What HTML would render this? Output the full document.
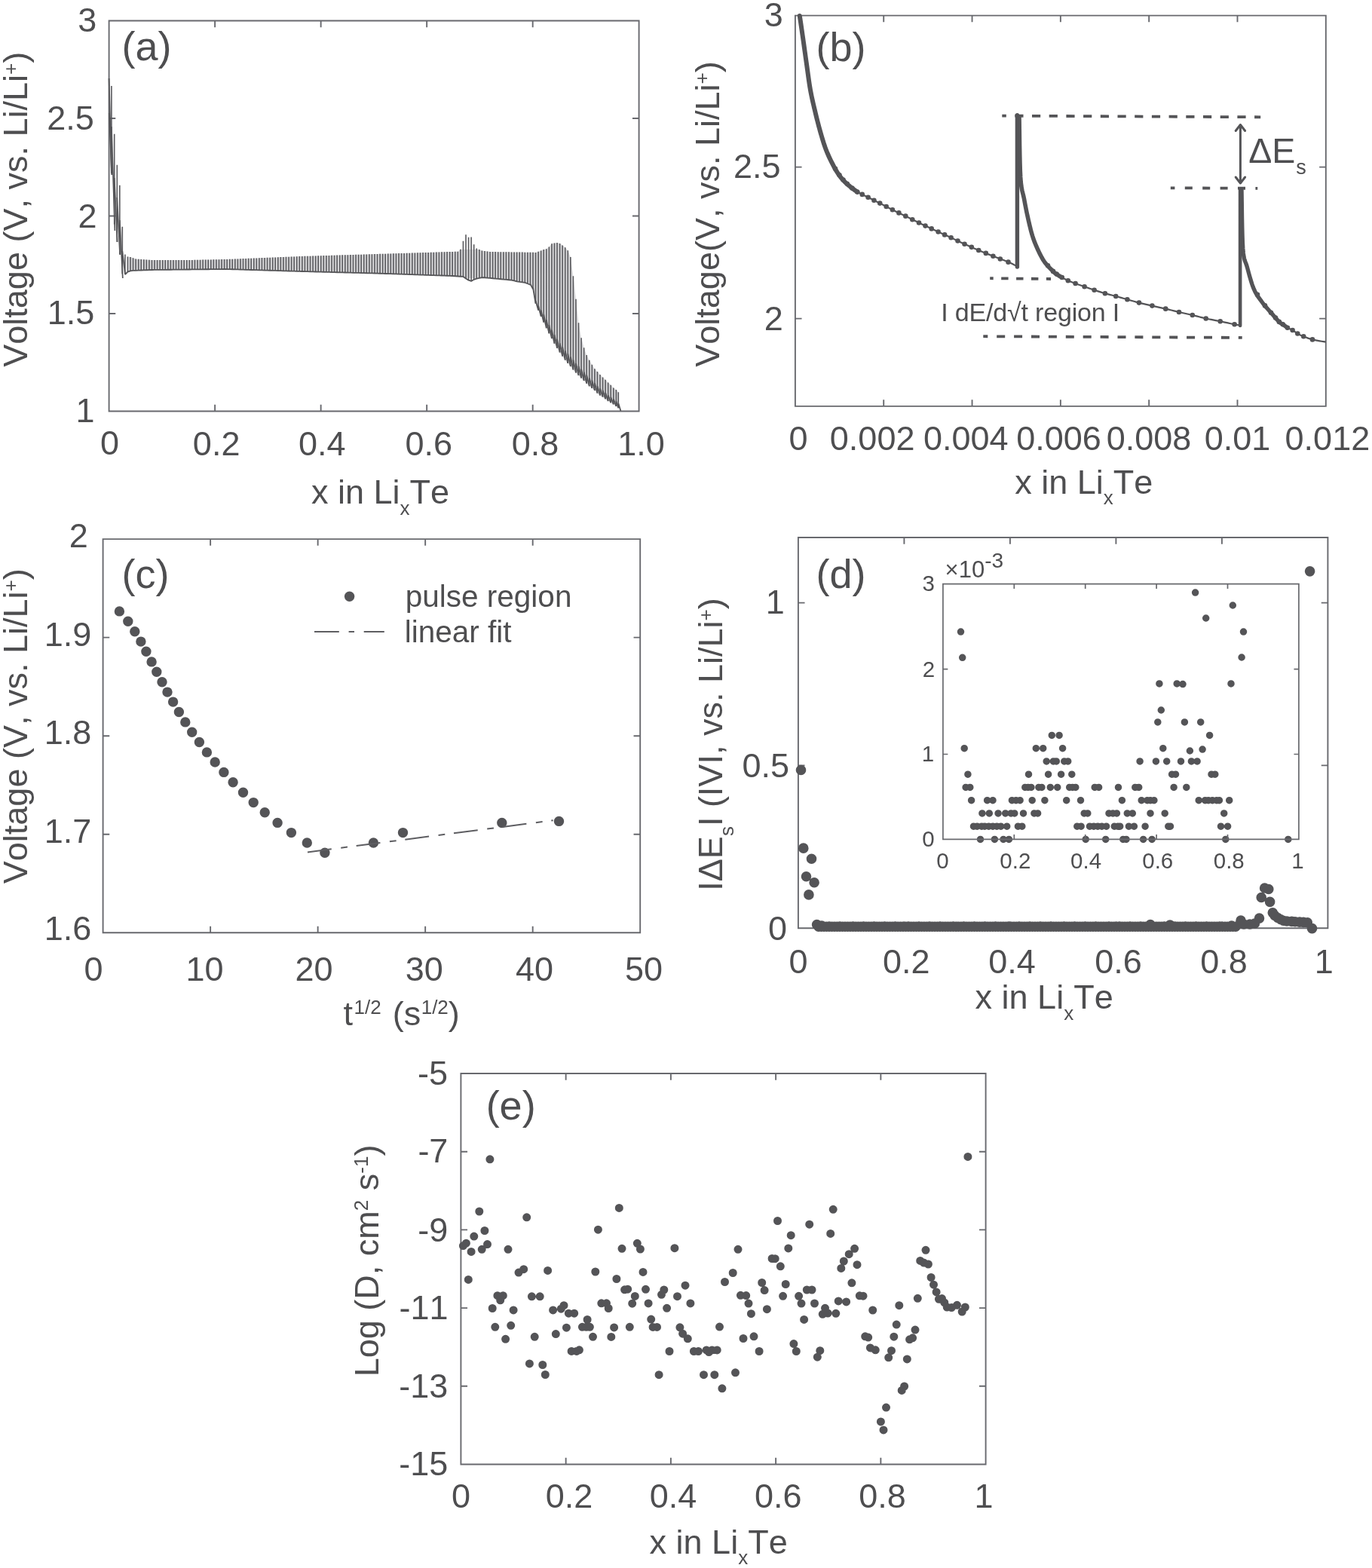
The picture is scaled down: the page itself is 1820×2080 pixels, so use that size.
<!DOCTYPE html>
<html><head><meta charset="utf-8"><title>GITT analysis of LixTe</title>
<style>
html,body{margin:0;padding:0;background:#fff;}
svg{display:block;}
text{font-family:"Liberation Sans", Arial, Helvetica, sans-serif;font-kerning:none;font-feature-settings:"kern" 0;}
</style></head><body>
<svg width="1820" height="2080" viewBox="0 0 1820 2080">
<rect width="1820" height="2080" fill="#fff"/>
<path d="M144.6 27.5H847.6V545.5H144.6ZM285.12 545.5v-7.7M285.12 27.5v7.7M425.64 545.5v-7.7M425.64 27.5v7.7M566.16 545.5v-7.7M566.16 27.5v7.7M706.68 545.5v-7.7M706.68 27.5v7.7M144.6 416h7.7M847.6 416h-7.7M144.6 286.5h7.7M847.6 286.5h-7.7M144.6 157h7.7M847.6 157h-7.7" fill="none" stroke="#68696e" stroke-width="1.9" stroke-linecap="square"/>
<path d="M169.4 340.5L173 341L176.56 342.27L180.12 343.51L183.68 343.78L187.24 344.04L190.8 344.31L194.36 344.58L197.92 344.84L201.48 345L205.04 345L208.6 345L212.16 345L215.72 345L219.28 345L222.84 345L226.4 345L229.96 345L233.52 345L237.08 345L240.64 345L244.2 345L247.76 345L251.32 344.97L254.88 344.9L258.44 344.83L262 344.76L265.56 344.69L269.12 344.62L272.68 344.55L276.24 344.48L279.8 344.4L283.36 344.33L286.92 344.26L290.48 344.19L294.04 344.12L297.6 344.05L301.16 343.95L304.72 343.81L308.28 343.67L311.84 343.53L315.4 343.38L318.96 343.24L322.52 343.1L326.08 342.96L329.64 342.81L333.2 342.67L336.76 342.53L340.32 342.39L343.88 342.24L347.44 342.1L351 341.96L354.56 341.82L358.12 341.68L361.68 341.53L365.24 341.39L368.8 341.25L372.36 341.11L375.92 340.96L379.48 340.82L383.04 340.68L386.6 340.54L390.16 340.39L393.72 340.25L397.28 340.11L400.84 339.97L404.4 339.87L407.96 339.76L411.52 339.65L415.08 339.55L418.64 339.44L422.2 339.33L425.76 339.23L429.32 339.12L432.88 339.01L436.44 338.91L440 338.8L443.56 338.69L447.12 338.59L450.68 338.48L454.24 338.37L457.8 338.27L461.36 338.16L464.92 338.05L468.48 337.95L472.04 337.84L475.6 337.73L479.16 337.63L482.72 337.52L486.28 337.41L489.84 337.3L493.4 337.2L496.96 337.09L500.52 336.98L504.08 336.87L507.64 336.76L511.2 336.65L514.76 336.54L518.32 336.43L521.88 336.32L525.44 336.21L529 336.1L532.56 335.99L536.12 335.88L539.68 335.77L543.24 335.66L546.8 335.55L550.36 335.44L553.92 335.33L557.48 335.22L561.04 335.11L564.6 335L568.16 334.89L571.72 334.78L575.28 334.67L578.84 334.56L582.4 334.45L585.96 334.34L589.52 334.23L593.08 334.12L596.64 334.01L600.2 333.9L603.76 333.79L607.32 333.68L610.88 330.85L614.44 331L618 331L621.56 331L625.12 331L628.68 331L632.24 331L635.8 331L639.36 332.55L642.92 333.03L646.48 333.52L650.04 334L653.6 334.05L657.16 334.1L660.72 334.15L664.28 334.2L667.84 334.25L671.4 334.3L674.96 334.35L678.52 334.4L682.08 334.45L685.64 334.5L689.2 334.55L692.76 334.6L696.32 334.65L699.88 334.7L703.44 334.77L707 334.83L710.56 334.88L714.12 333.66L717.68 332.53L721.24 331.03L724.8 330.22L728.36 327.52L731.92 323.37L735.48 322.49L739.04 321.92L742.6 323.07L746.16 325.52L749.72 328.13L753.28 332.26L756.84 341.04L760.4 366.21L763.96 396.66L767.52 428.16L771.08 448.25L774.64 461.26L778.2 470.97L781.76 477.76L785.32 483.65L788.88 489.15L792.44 493.11L796 496.95L799.56 500.55L803.12 503.71L806.68 507.58L810.24 510.85L813.8 514.52L817.36 517.1L820.3 520.2L820.3 541.33L817.36 538.9L813.8 536.36L810.24 534.23L806.68 532.12L803.12 529.24L799.56 526.58L796 524.47L792.44 521.61L788.88 518L785.32 514.98L781.76 512.2L778.2 508.65L774.64 505.04L771.08 501.48L767.52 497.94L763.96 494.44L760.4 490.43L756.84 486.08L753.28 481.83L749.72 477.59L746.16 472.56L742.6 467.38L739.04 461.76L735.48 455.69L731.92 449.08L728.36 442.23L724.8 435.28L721.24 427.53L717.68 419.64L714.12 411.55L710.56 402.58L707 383.26L703.44 377.73L699.88 376.28L696.32 374.88L692.76 374.42L689.2 373.97L685.64 373.4L682.08 372.33L678.52 371.56L674.96 371.23L671.4 370.9L667.84 370.58L664.28 370.25L660.72 369.92L657.16 369.59L653.6 369.26L650.04 368.93L646.48 368.6L642.92 368.27L639.36 368.13L635.8 368.84L632.24 369L628.68 369L625.12 369L621.56 369L618 369L614.44 366.96L610.88 366.73L607.32 366.49L603.76 366.25L600.2 366.01L596.64 365.89L593.08 365.76L589.52 365.64L585.96 365.52L582.4 365.4L578.84 365.28L575.28 365.16L571.72 365.04L568.16 364.92L564.6 364.8L561.04 364.68L557.48 364.55L553.92 364.43L550.36 364.31L546.8 364.19L543.24 364.07L539.68 363.95L536.12 363.83L532.56 363.71L529 363.59L525.44 363.46L521.88 363.34L518.32 363.22L514.76 363.1L511.2 362.98L507.64 362.86L504.08 362.74L500.52 362.62L496.96 362.52L493.4 362.43L489.84 362.34L486.28 362.24L482.72 362.15L479.16 362.06L475.6 361.97L472.04 361.87L468.48 361.78L464.92 361.69L461.36 361.6L457.8 361.5L454.24 361.41L450.68 361.32L447.12 361.23L443.56 361.13L440 361.04L436.44 360.95L432.88 360.85L429.32 360.76L425.76 360.67L422.2 360.58L418.64 360.48L415.08 360.39L411.52 360.3L407.96 360.21L404.4 360.11L400.84 360.02L397.28 359.92L393.72 359.81L390.16 359.7L386.6 359.6L383.04 359.49L379.48 359.38L375.92 359.28L372.36 359.17L368.8 359.06L365.24 358.96L361.68 358.85L358.12 358.74L354.56 358.64L351 358.53L347.44 358.42L343.88 358.32L340.32 358.21L336.76 358.1L333.2 358L329.64 357.89L326.08 357.78L322.52 357.68L318.96 357.57L315.4 357.46L311.84 357.36L308.28 357.25L304.72 357.14L301.16 357.03L297.6 357.02L294.04 357.06L290.48 357.1L286.92 357.13L283.36 357.17L279.8 357.2L276.24 357.24L272.68 357.27L269.12 357.31L265.56 357.34L262 357.38L258.44 357.42L254.88 357.45L251.32 357.49L247.76 357.52L244.2 357.56L240.64 357.59L237.08 357.63L233.52 357.66L229.96 357.7L226.4 357.74L222.84 357.77L219.28 357.81L215.72 357.84L212.16 357.88L208.6 357.91L205.04 357.95L201.48 357.99L197.92 358.08L194.36 358.23L190.8 358.37L187.24 358.51L183.68 358.65L180.12 358.8L176.56 358.94L173 359.4L169.4 360.6Z" fill="#dadadc"/>
<path d="M147.9 230V114M151.7 297.6V177.7M155.3 321.06V218.8M158.8 337.09V245.7M162.3 363.25V300.8M165.9 364.15V337.6M169.4 360.6V340.5M173 359.4V341M176.56 358.94V342.27M180.12 358.8V343.51M183.68 358.65V343.78M187.24 358.51V344.04M190.8 358.37V344.31M194.36 358.23V344.58M197.92 358.08V344.84M201.48 357.99V345M205.04 357.95V345M208.6 357.91V345M212.16 357.88V345M215.72 357.84V345M219.28 357.81V345M222.84 357.77V345M226.4 357.74V345M229.96 357.7V345M233.52 357.66V345M237.08 357.63V345M240.64 357.59V345M244.2 357.56V345M247.76 357.52V345M251.32 357.49V344.97M254.88 357.45V344.9M258.44 357.42V344.83M262 357.38V344.76M265.56 357.34V344.69M269.12 357.31V344.62M272.68 357.27V344.55M276.24 357.24V344.48M279.8 357.2V344.4M283.36 357.17V344.33M286.92 357.13V344.26M290.48 357.1V344.19M294.04 357.06V344.12M297.6 357.02V344.05M301.16 357.03V343.95M304.72 357.14V343.81M308.28 357.25V343.67M311.84 357.36V343.53M315.4 357.46V343.38M318.96 357.57V343.24M322.52 357.68V343.1M326.08 357.78V342.96M329.64 357.89V342.81M333.2 358V342.67M336.76 358.1V342.53M340.32 358.21V342.39M343.88 358.32V342.24M347.44 358.42V342.1M351 358.53V341.96M354.56 358.64V341.82M358.12 358.74V341.68M361.68 358.85V341.53M365.24 358.96V341.39M368.8 359.06V341.25M372.36 359.17V341.11M375.92 359.28V340.96M379.48 359.38V340.82M383.04 359.49V340.68M386.6 359.6V340.54M390.16 359.7V340.39M393.72 359.81V340.25M397.28 359.92V340.11M400.84 360.02V339.97M404.4 360.11V339.87M407.96 360.21V339.76M411.52 360.3V339.65M415.08 360.39V339.55M418.64 360.48V339.44M422.2 360.58V339.33M425.76 360.67V339.23M429.32 360.76V339.12M432.88 360.85V339.01M436.44 360.95V338.91M440 361.04V338.8M443.56 361.13V338.69M447.12 361.23V338.59M450.68 361.32V338.48M454.24 361.41V338.37M457.8 361.5V338.27M461.36 361.6V338.16M464.92 361.69V338.05M468.48 361.78V337.95M472.04 361.87V337.84M475.6 361.97V337.73M479.16 362.06V337.63M482.72 362.15V337.52M486.28 362.24V337.41M489.84 362.34V337.3M493.4 362.43V337.2M496.96 362.52V337.09M500.52 362.62V336.98M504.08 362.74V336.87M507.64 362.86V336.76M511.2 362.98V336.65M514.76 363.1V336.54M518.32 363.22V336.43M521.88 363.34V336.32M525.44 363.46V336.21M529 363.59V336.1M532.56 363.71V335.99M536.12 363.83V335.88M539.68 363.95V335.77M543.24 364.07V335.66M546.8 364.19V335.55M550.36 364.31V335.44M553.92 364.43V335.33M557.48 364.55V335.22M561.04 364.68V335.11M564.6 364.8V335M568.16 364.92V334.89M571.72 365.04V334.78M575.28 365.16V334.67M578.84 365.28V334.56M582.4 365.4V334.45M585.96 365.52V334.34M589.52 365.64V334.23M593.08 365.76V334.12M596.64 365.89V334.01M600.2 366.01V333.9M603.76 366.25V333.79M607.32 366.49V333.68M610.88 366.73V330.85M614.44 366.96V319.75M618 369.4V311.14M621.56 371.62V314.81M625.12 372.93V314.55M628.68 370.79V324.32M632.24 369.55V329.41M635.8 368.84V330.93M639.36 368.13V332.55M642.92 368.27V333.03M646.48 368.6V333.52M650.04 368.93V334M653.6 369.26V334.05M657.16 369.59V334.1M660.72 369.92V334.15M664.28 370.25V334.2M667.84 370.58V334.25M671.4 370.9V334.3M674.96 371.23V334.35M678.52 371.56V334.4M682.08 372.33V334.45M685.64 373.4V334.5M689.2 373.97V334.55M692.76 374.42V334.6M696.32 374.88V334.65M699.88 376.28V334.7M703.44 377.73V334.77M707 383.26V334.83M710.56 402.58V334.88M714.12 411.55V333.66M717.68 419.64V332.53M721.24 427.53V331.03M724.8 435.28V330.22M728.36 442.23V327.52M731.92 449.08V323.37M735.48 455.69V322.49M739.04 461.76V321.92M742.6 467.38V323.07M746.16 472.56V325.52M749.72 477.59V328.13M753.28 481.83V332.26M756.84 486.08V341.04M760.4 490.43V366.21M763.96 494.44V396.66M767.52 497.94V428.16M771.08 501.48V448.25M774.64 505.04V461.26M778.2 508.65V470.97M781.76 512.2V477.76M785.32 514.98V483.65M788.88 518V489.15M792.44 521.61V493.11M796 524.47V496.95M799.56 526.58V500.55M803.12 529.24V503.71M806.68 532.12V507.58M810.24 534.23V510.85M813.8 536.36V514.52M817.36 538.9V517.1M820.3 541.33V520.2" fill="none" stroke="#59595d" stroke-width="1.6"/>
<path d="M144.6 104L147.9 230M166 364L169.4 360.6L173 359.4L176.56 358.94L180.12 358.8L183.68 358.65L187.24 358.51L190.8 358.37L194.36 358.23L197.92 358.08L201.48 357.99L205.04 357.95L208.6 357.91L212.16 357.88L215.72 357.84L219.28 357.81L222.84 357.77L226.4 357.74L229.96 357.7L233.52 357.66L237.08 357.63L240.64 357.59L244.2 357.56L247.76 357.52L251.32 357.49L254.88 357.45L258.44 357.42L262 357.38L265.56 357.34L269.12 357.31L272.68 357.27L276.24 357.24L279.8 357.2L283.36 357.17L286.92 357.13L290.48 357.1L294.04 357.06L297.6 357.02L301.16 357.03L304.72 357.14L308.28 357.25L311.84 357.36L315.4 357.46L318.96 357.57L322.52 357.68L326.08 357.78L329.64 357.89L333.2 358L336.76 358.1L340.32 358.21L343.88 358.32L347.44 358.42L351 358.53L354.56 358.64L358.12 358.74L361.68 358.85L365.24 358.96L368.8 359.06L372.36 359.17L375.92 359.28L379.48 359.38L383.04 359.49L386.6 359.6L390.16 359.7L393.72 359.81L397.28 359.92L400.84 360.02L404.4 360.11L407.96 360.21L411.52 360.3L415.08 360.39L418.64 360.48L422.2 360.58L425.76 360.67L429.32 360.76L432.88 360.85L436.44 360.95L440 361.04L443.56 361.13L447.12 361.23L450.68 361.32L454.24 361.41L457.8 361.5L461.36 361.6L464.92 361.69L468.48 361.78L472.04 361.87L475.6 361.97L479.16 362.06L482.72 362.15L486.28 362.24L489.84 362.34L493.4 362.43L496.96 362.52L500.52 362.62L504.08 362.74L507.64 362.86L511.2 362.98L514.76 363.1L518.32 363.22L521.88 363.34L525.44 363.46L529 363.59L532.56 363.71L536.12 363.83L539.68 363.95L543.24 364.07L546.8 364.19L550.36 364.31L553.92 364.43L557.48 364.55L561.04 364.68L564.6 364.8L568.16 364.92L571.72 365.04L575.28 365.16L578.84 365.28L582.4 365.4L585.96 365.52L589.52 365.64L593.08 365.76L596.64 365.89L600.2 366.01L603.76 366.25L607.32 366.49L610.88 366.73L614.44 366.96L618 369.4L621.56 371.62L625.12 372.93L628.68 370.79L632.24 369.55L635.8 368.84L639.36 368.13L642.92 368.27L646.48 368.6L650.04 368.93L653.6 369.26L657.16 369.59L660.72 369.92L664.28 370.25L667.84 370.58L671.4 370.9L674.96 371.23L678.52 371.56L682.08 372.33L685.64 373.4L689.2 373.97L692.76 374.42L696.32 374.88L699.88 376.28L703.44 377.73M703.44 376.87L707 383.26M707 381.51L710.56 402.58M710.56 398.87L714.12 411.55M714.12 405.47L717.68 419.64M717.68 411.34L721.24 427.53M721.24 417L724.8 435.28M724.8 424.13L728.36 442.23M728.36 430.9L731.92 449.08M731.92 437.56L735.48 455.69M735.48 443.98L739.04 461.76M739.04 449.86L742.6 467.38M742.6 455.3L746.16 472.56M746.16 460.29L749.72 477.59M749.72 465.13L753.28 481.83M753.28 469.19L756.84 486.08M756.84 473.25L760.4 490.43M760.4 477.47L763.96 494.44M763.96 481.83L767.52 497.94M767.52 485.69L771.08 501.48M771.08 489.59L774.64 505.04M774.64 493.5L778.2 508.65M778.2 497.47L781.76 512.2M781.76 501.38L785.32 514.98M785.32 504.52L788.88 518M788.88 507.88L792.44 521.61M792.44 511.92L796 524.47M796 515.22L799.56 526.58M799.56 517.78L803.12 529.24M803.12 520.88L806.68 532.12M806.68 524.21L810.24 534.23M810.24 526.76L813.8 536.36M813.8 529.33L817.36 538.9M817.36 532.32L820.3 541.33M820.3 535.12L823.4 545" fill="none" stroke="#545457" stroke-width="1.8" stroke-linejoin="round"/>
<path d="M144.8 150L148.2 232M147.9 168L152.4 306M151.7 236L155.6 321M155.3 262L159.1 338M158.8 292L162.8 369M162.3 333L166 364" fill="none" stroke="#545457" stroke-width="1.7"/>
<text x="103.32" y="41.64" font-size="45" fill="#4e4e50">3</text>
<text x="62.29" y="171.69" font-size="45" fill="#4e4e50">2.5</text>
<text x="103.49" y="301.56" font-size="45" fill="#4e4e50">2</text>
<text x="62.85" y="430.41" font-size="45" fill="#4e4e50">1.5</text>
<text x="100.62" y="559.78" font-size="45" fill="#4e4e50">1</text>
<text x="132.99" y="603.29" font-size="45" fill="#4e4e50">0</text>
<text x="255.87" y="603.59" font-size="45" fill="#4e4e50">0.2</text>
<text x="396.05" y="603.59" font-size="45" fill="#4e4e50">0.4</text>
<text x="537.38" y="603.59" font-size="45" fill="#4e4e50">0.6</text>
<text x="678.77" y="603.59" font-size="45" fill="#4e4e50">0.8</text>
<text x="819.24" y="603.59" font-size="45" fill="#4e4e50">1.0</text>
<text x="161.55" y="80.47" font-size="54" fill="#4e4e50">(a)</text>
<text x="412.99" y="668" font-size="45" fill="#4e4e50">x in Li<tspan font-size="26" dy="14.5">x</tspan><tspan dy="-14.5">Te</tspan></text>
<text transform="translate(36 486.7) rotate(-90)" font-size="45" fill="#4e4e50">Voltage (V, vs. Li/Li<tspan font-size="26" dy="-13.5">+</tspan><tspan dy="13.5">)</tspan></text>
<path d="M1054.9 20.6H1758.8V538.9H1054.9ZM1172.22 538.9v-7.7M1172.22 20.6v7.7M1289.54 538.9v-7.7M1289.54 20.6v7.7M1406.86 538.9v-7.7M1406.86 20.6v7.7M1524.18 538.9v-7.7M1524.18 20.6v7.7M1641.5 538.9v-7.7M1641.5 20.6v7.7M1054.9 422.6h7.7M1758.8 422.6h-7.7M1054.9 221.6h7.7M1758.8 221.6h-7.7" fill="none" stroke="#68696e" stroke-width="1.9" stroke-linecap="square"/>
<g stroke="#545457" stroke-width="3.8" fill="none"><path d="M1329.3 153.6L1672.2 155.3" stroke-dasharray="11.2 11.5" stroke-dashoffset="5.7"/><path d="M1552.8 249.3L1668.2 249.8" stroke-dasharray="10 13.4" stroke-dashoffset="4.4"/><path d="M1313.2 369.2L1394 370" stroke-dasharray="9.4 10.5" stroke-dashoffset="4.9"/><path d="M1304.3 446.2L1647.7 447.9" stroke-dasharray="11 11.9" stroke-dashoffset="5"/></g>
<path d="M1060.8 20.9L1061.14 23.19L1061.58 26.21L1062.11 29.8L1062.7 33.81L1063.33 38.09L1063.97 42.48L1064.6 46.84L1065.2 51L1065.78 55.08L1066.37 59.26L1066.96 63.52L1067.56 67.84L1068.17 72.19L1068.78 76.55L1069.39 80.9L1070 85.2L1070.61 89.52L1071.21 93.91L1071.82 98.32L1072.42 102.73L1073.04 107.07L1073.67 111.33L1074.33 115.45L1075 119.4L1075.7 123.15L1076.41 126.73L1077.13 130.18L1077.88 133.53L1078.63 136.83L1079.41 140.12L1080.2 143.43L1081 146.8L1081.82 150.24L1082.66 153.7L1083.52 157.16L1084.39 160.63L1085.27 164.06L1086.17 167.47L1087.08 170.82L1088 174.1L1088.92 177.32L1089.84 180.5L1090.76 183.64L1091.7 186.74L1092.66 189.79L1093.66 192.8L1094.7 195.77L1095.8 198.7L1096.96 201.61L1098.2 204.53L1099.48 207.41L1100.79 210.25L1102.11 213.01L1103.44 215.67L1104.74 218.21L1106 220.6L1107.22 222.83L1108.41 224.93L1109.58 226.91L1110.75 228.78L1111.92 230.57L1113.12 232.29L1114.34 233.96L1115.6 235.6L1116.91 237.19L1118.25 238.7L1119.63 240.14L1121.02 241.52L1122.42 242.86L1123.82 244.14L1125.22 245.39L1126.6 246.6L1127.95 247.77L1129.27 248.88L1130.57 249.94L1131.88 250.96L1133.21 251.95L1134.58 252.91L1136 253.86L1137.5 254.8L1139.06 255.71L1140.66 256.57L1142.31 257.39L1144.01 258.2L1145.74 259.01L1147.52 259.83L1149.34 260.69L1151.2 261.6L1153.12 262.55L1155.09 263.54L1157.12 264.54L1159.19 265.57L1161.28 266.61L1163.39 267.67L1165.5 268.73L1167.6 269.8L1169.7 270.88L1171.83 271.99L1173.96 273.12L1176.11 274.25L1178.26 275.38L1180.41 276.51L1182.56 277.62L1184.7 278.7L1186.9 279.79L1189.18 280.89L1191.49 282L1193.79 283.09L1196.02 284.14L1198.13 285.14L1200.07 286.07L1201.8 286.9L1203.21 287.6L1204.33 288.15L1205.24 288.62L1206.04 289.04L1206.85 289.46L1207.76 289.93L1208.88 290.49L1210.3 291.2L1212.03 292.06L1213.99 293.02L1216.12 294.07L1218.36 295.17L1220.67 296.31L1223 297.44L1225.3 298.55L1227.5 299.6L1229.64 300.61L1231.78 301.61L1233.92 302.6L1236.06 303.59L1238.2 304.57L1240.33 305.54L1242.47 306.52L1244.6 307.5L1246.72 308.48L1248.84 309.44L1250.94 310.4L1253.05 311.37L1255.16 312.33L1257.29 313.31L1259.43 314.29L1261.6 315.3L1263.79 316.33L1265.99 317.37L1268.21 318.43L1270.44 319.5L1272.69 320.57L1274.95 321.64L1277.22 322.7L1279.5 323.75L1281.8 324.79L1284.11 325.84L1286.43 326.88L1288.77 327.92L1291.12 328.95L1293.47 329.97L1295.83 330.99L1298.2 332L1300.57 333L1302.94 333.98L1305.32 334.96L1307.71 335.93L1310.11 336.89L1312.53 337.86L1314.95 338.83L1317.4 339.8L1319.93 340.79L1322.56 341.8L1325.25 342.82L1327.93 343.84L1330.55 344.84L1333.05 345.8L1335.39 346.73L1337.5 347.6L1339.44 348.44L1341.27 349.29L1342.98 350.11L1344.56 350.89L1345.97 351.61L1347.21 352.25L1348.26 352.78L1349.1 353.2L1349.5 152.6L1352 155L1352.11 161.52L1352.23 170.56L1352.37 181.37L1352.54 193.17L1352.75 205.2L1353.01 216.69L1353.32 226.88L1353.7 235L1354.16 241.12L1354.7 246L1355.3 249.92L1355.95 253.12L1356.62 255.9L1357.3 258.51L1357.97 261.22L1358.6 264.3L1359.2 267.59L1359.8 270.75L1360.38 273.81L1360.98 276.81L1361.57 279.77L1362.19 282.72L1362.83 285.69L1363.5 288.7L1364.2 291.78L1364.91 294.92L1365.65 298.07L1366.4 301.22L1367.17 304.32L1367.96 307.34L1368.77 310.24L1369.6 313L1370.45 315.61L1371.31 318.1L1372.19 320.48L1373.09 322.78L1374.01 325.02L1374.96 327.2L1375.92 329.36L1376.9 331.5L1377.9 333.63L1378.9 335.72L1379.92 337.78L1380.97 339.79L1382.04 341.76L1383.15 343.67L1384.3 345.52L1385.5 347.3L1386.79 349.05L1388.2 350.77L1389.66 352.46L1391.16 354.08L1392.63 355.62L1394.04 357.05L1395.34 358.35L1396.5 359.5L1397.5 360.47L1398.37 361.27L1399.15 361.93L1399.86 362.49L1400.53 362.98L1401.19 363.44L1401.87 363.9L1402.6 364.4L1403.35 364.91L1404.07 365.37L1404.78 365.81L1405.5 366.23L1406.24 366.65L1407.01 367.07L1407.82 367.52L1408.7 368L1409.64 368.52L1410.63 369.06L1411.65 369.62L1412.72 370.19L1413.81 370.76L1414.93 371.32L1416.06 371.87L1417.2 372.4L1418.35 372.9L1419.51 373.38L1420.68 373.85L1421.88 374.31L1423.11 374.77L1424.36 375.24L1425.66 375.71L1427 376.2L1428.39 376.7L1429.81 377.21L1431.28 377.73L1432.78 378.25L1434.3 378.78L1435.85 379.31L1437.42 379.85L1439 380.4L1440.61 380.96L1442.25 381.53L1443.92 382.11L1445.61 382.7L1447.31 383.29L1449.02 383.87L1450.72 384.44L1452.4 385L1454.07 385.55L1455.72 386.09L1457.38 386.62L1459.03 387.15L1460.69 387.67L1462.37 388.19L1464.07 388.7L1465.8 389.2L1467.55 389.69L1469.32 390.16L1471.11 390.63L1472.91 391.09L1474.73 391.55L1476.57 392.02L1478.43 392.5L1480.3 393L1482.2 393.52L1484.13 394.06L1486.09 394.61L1488.06 395.18L1490.04 395.74L1492.01 396.3L1493.97 396.86L1495.9 397.4L1497.8 397.94L1499.66 398.47L1501.5 399L1503.34 399.52L1505.2 400.05L1507.08 400.57L1509.01 401.09L1511 401.6L1513.05 402.11L1515.16 402.61L1517.31 403.11L1519.49 403.61L1521.69 404.11L1523.9 404.6L1526.1 405.1L1528.3 405.6L1530.49 406.1L1532.69 406.59L1534.9 407.08L1537.11 407.58L1539.32 408.07L1541.54 408.57L1543.77 409.08L1546 409.6L1548.24 410.13L1550.48 410.68L1552.74 411.24L1554.99 411.8L1557.25 412.36L1559.51 412.92L1561.76 413.47L1564 414L1566.23 414.52L1568.46 415.02L1570.69 415.51L1572.91 415.99L1575.13 416.48L1577.35 416.97L1579.57 417.48L1581.8 418L1584.03 418.54L1586.24 419.11L1588.46 419.68L1590.67 420.27L1592.9 420.85L1595.15 421.42L1597.41 421.97L1599.7 422.5L1602.02 423L1604.38 423.48L1606.75 423.95L1609.14 424.4L1611.53 424.85L1613.93 425.31L1616.32 425.77L1618.7 426.25L1621.15 426.76L1623.7 427.31L1626.3 427.88L1628.88 428.44L1631.36 428.98L1633.69 429.49L1635.79 429.93L1637.6 430.3L1639.13 430.59L1640.43 430.81L1641.54 430.98L1642.48 431.1L1643.27 431.2L1643.94 431.27L1644.51 431.34L1645 431.4L1645.2 250.6L1647 252L1647.11 258.38L1647.23 267.27L1647.38 277.89L1647.55 289.47L1647.77 301.25L1648.04 312.44L1648.38 322.28L1648.8 330L1649.3 335.58L1649.86 339.76L1650.48 342.87L1651.16 345.26L1651.89 347.27L1652.68 349.23L1653.52 351.5L1654.4 354.4L1655.34 357.88L1656.34 361.59L1657.39 365.43L1658.5 369.31L1659.65 373.14L1660.84 376.83L1662.05 380.28L1663.3 383.4L1664.57 386.18L1665.89 388.7L1667.23 391.01L1668.62 393.16L1670.04 395.21L1671.49 397.2L1672.98 399.2L1674.5 401.25L1676.1 403.35L1677.8 405.45L1679.56 407.53L1681.34 409.57L1683.11 411.54L1684.81 413.44L1686.43 415.23L1687.9 416.9L1689.26 418.47L1690.54 419.95L1691.74 421.35L1692.88 422.67L1693.95 423.88L1694.96 425L1695.91 426L1696.8 426.9L1697.6 427.63L1698.28 428.19L1698.87 428.61L1699.42 428.95L1699.94 429.24L1700.48 429.53L1701.05 429.87L1701.7 430.3L1702.41 430.81L1703.15 431.36L1703.91 431.93L1704.69 432.51L1705.48 433.09L1706.28 433.65L1707.09 434.2L1707.9 434.7L1708.71 435.16L1709.54 435.57L1710.38 435.97L1711.22 436.34L1712.07 436.72L1712.91 437.12L1713.76 437.54L1714.6 438L1715.43 438.51L1716.25 439.06L1717.06 439.63L1717.87 440.22L1718.7 440.81L1719.54 441.4L1720.41 441.96L1721.3 442.5L1722.2 443.01L1723.1 443.49L1724 443.96L1724.93 444.43L1725.9 444.88L1726.92 445.35L1728.02 445.82L1729.2 446.3L1730.45 446.8L1731.74 447.32L1733.08 447.85L1734.48 448.38L1735.96 448.91L1737.54 449.42L1739.21 449.92L1741 450.4L1743.06 450.87L1745.45 451.36L1748.02 451.84L1750.64 452.31L1753.17 452.74L1755.46 453.13L1757.39 453.45L1758.8 453.7" fill="none" stroke="#545457" stroke-width="2.2" stroke-linejoin="round"/>
<path d="M1060.8 20.9L1061.14 23.19L1061.58 26.21L1062.11 29.8L1062.7 33.81L1063.33 38.09L1063.97 42.48L1064.6 46.84L1065.2 51L1065.78 55.08L1066.37 59.26L1066.96 63.52L1067.56 67.84L1068.17 72.19L1068.78 76.55L1069.39 80.9L1070 85.2L1070.61 89.52L1071.21 93.91L1071.82 98.32L1072.42 102.73L1073.04 107.07L1073.67 111.33L1074.33 115.45L1075 119.4L1075.7 123.15L1076.41 126.73L1077.13 130.18L1077.88 133.53L1078.63 136.83L1079.41 140.12L1080.2 143.43L1081 146.8L1081.82 150.24L1082.66 153.7L1083.52 157.16L1084.39 160.63L1085.27 164.06L1086.17 167.47L1087.08 170.82L1088 174.1L1088.92 177.32L1089.84 180.5L1090.76 183.64L1091.7 186.74L1092.66 189.79L1093.66 192.8L1094.7 195.77L1095.8 198.7L1096.96 201.61L1098.2 204.53L1099.48 207.41L1100.79 210.25L1102.11 213.01L1103.44 215.67L1104.74 218.21L1106 220.6L1107.22 222.83L1108.41 224.93L1109.58 226.91L1110.75 228.78L1111.92 230.57L1113.12 232.29L1114.34 233.96L1115.6 235.6L1116.91 237.19L1118.25 238.7L1119.63 240.14L1121.02 241.52L1122.42 242.86L1123.82 244.14L1125.22 245.39L1126.6 246.6L1128.04 247.82L1129.59 249.04L1131.17 250.24L1132.74 251.39L1134.22 252.45L1135.54 253.39L1136.66 254.19L1137.5 254.8" fill="none" stroke="#545457" stroke-width="6" stroke-linecap="round" stroke-linejoin="round"/>
<path d="M1349.4 354V152.6" stroke="#545457" stroke-width="5.4" stroke-linecap="round"/>
<path d="M1352 155L1352.11 161.52L1352.23 170.56L1352.37 181.37L1352.54 193.17L1352.75 205.2L1353.01 216.69L1353.32 226.88L1353.7 235L1354.16 241.12L1354.7 246L1355.3 249.92L1355.95 253.12L1356.62 255.9L1357.3 258.51L1357.97 261.22L1358.6 264.3L1359.2 267.59L1359.8 270.75L1360.38 273.81L1360.98 276.81L1361.57 279.77L1362.19 282.72L1362.83 285.69L1363.5 288.7L1364.2 291.78L1364.91 294.92L1365.65 298.07L1366.4 301.22L1367.17 304.32L1367.96 307.34L1368.77 310.24L1369.6 313L1370.45 315.61L1371.31 318.1L1372.19 320.48L1373.09 322.78L1374.01 325.02L1374.96 327.2L1375.92 329.36L1376.9 331.5L1377.9 333.63L1378.9 335.72L1379.92 337.78L1380.97 339.79L1382.04 341.76L1383.15 343.67L1384.3 345.52L1385.5 347.3L1386.79 349.05L1388.2 350.77L1389.66 352.46L1391.16 354.08L1392.63 355.62L1394.04 357.05L1395.34 358.35L1396.5 359.5L1397.5 360.47L1398.37 361.27L1399.15 361.93L1399.86 362.49L1400.53 362.98L1401.19 363.44L1401.87 363.9L1402.6 364.4L1403.4 364.94L1404.27 365.48L1405.16 366L1406.03 366.51L1406.86 366.97L1407.6 367.38L1408.23 367.73L1408.7 368" fill="none" stroke="#545457" stroke-width="5.6" stroke-linecap="round" stroke-linejoin="round"/>
<path d="M1645.1 432V250.6" stroke="#545457" stroke-width="4.6" stroke-linecap="round"/>
<path d="M1647 252L1647.11 258.38L1647.23 267.27L1647.38 277.89L1647.55 289.47L1647.77 301.25L1648.04 312.44L1648.38 322.28L1648.8 330L1649.3 335.58L1649.86 339.76L1650.48 342.87L1651.16 345.26L1651.89 347.27L1652.68 349.23L1653.52 351.5L1654.4 354.4L1655.34 357.88L1656.34 361.59L1657.39 365.43L1658.5 369.31L1659.65 373.14L1660.84 376.83L1662.05 380.28L1663.3 383.4L1664.57 386.18L1665.89 388.7L1667.23 391.01L1668.62 393.16L1670.04 395.21L1671.49 397.2L1672.98 399.2L1674.5 401.25L1676.1 403.35L1677.8 405.45L1679.56 407.53L1681.34 409.57L1683.11 411.54L1684.81 413.44L1686.43 415.23L1687.9 416.9L1689.26 418.47L1690.54 419.95L1691.74 421.35L1692.88 422.67L1693.95 423.88L1694.96 425L1695.91 426L1696.8 426.9L1697.6 427.63L1698.28 428.19L1698.87 428.61L1699.42 428.95L1699.94 429.24L1700.48 429.53L1701.05 429.87L1701.7 430.3L1702.46 430.83L1703.3 431.43L1704.2 432.07L1705.11 432.71L1705.97 433.33L1706.76 433.89L1707.41 434.35L1707.9 434.7" fill="none" stroke="#545457" stroke-width="5.4" stroke-linecap="round" stroke-linejoin="round"/>
<path d="M1104.7 223.73a3.3 3.3 0 1 0 6.6 0a3.3 3.3 0 1 0 -6.6 0M1110.2 232.32a3.3 3.3 0 1 0 6.6 0a3.3 3.3 0 1 0 -6.6 0M1115.2 238.5a3.3 3.3 0 1 0 6.6 0a3.3 3.3 0 1 0 -6.6 0M1120.4 243.7a3.3 3.3 0 1 0 6.6 0a3.3 3.3 0 1 0 -6.6 0M1127.1 249.46a3.3 3.3 0 1 0 6.6 0a3.3 3.3 0 1 0 -6.6 0M1133.8 254.5a3.3 3.3 0 1 0 6.6 0a3.3 3.3 0 1 0 -6.6 0M1140.45 257.9a3.3 3.3 0 1 0 6.6 0a3.3 3.3 0 1 0 -6.6 0M1148.3 261.8a3.3 3.3 0 1 0 6.6 0a3.3 3.3 0 1 0 -6.6 0M1156.1 265.7a3.3 3.3 0 1 0 6.6 0a3.3 3.3 0 1 0 -6.6 0M1163.9 269.6a3.3 3.3 0 1 0 6.6 0a3.3 3.3 0 1 0 -6.6 0M1172.4 274.02a3.3 3.3 0 1 0 6.6 0a3.3 3.3 0 1 0 -6.6 0M1180.6 278.28a3.3 3.3 0 1 0 6.6 0a3.3 3.3 0 1 0 -6.6 0M1189.1 282.39a3.3 3.3 0 1 0 6.6 0a3.3 3.3 0 1 0 -6.6 0M1198 286.66a3.3 3.3 0 1 0 6.6 0a3.3 3.3 0 1 0 -6.6 0M1207 291.2a3.3 3.3 0 1 0 6.6 0a3.3 3.3 0 1 0 -6.6 0M1215.7 295.45a3.3 3.3 0 1 0 6.6 0a3.3 3.3 0 1 0 -6.6 0M1224.2 299.6a3.3 3.3 0 1 0 6.6 0a3.3 3.3 0 1 0 -6.6 0M1232.4 303.39a3.3 3.3 0 1 0 6.6 0a3.3 3.3 0 1 0 -6.6 0M1241.3 307.5a3.3 3.3 0 1 0 6.6 0a3.3 3.3 0 1 0 -6.6 0M1249.8 311.4a3.3 3.3 0 1 0 6.6 0a3.3 3.3 0 1 0 -6.6 0M1258.3 315.3a3.3 3.3 0 1 0 6.6 0a3.3 3.3 0 1 0 -6.6 0M1267.2 319.5a3.3 3.3 0 1 0 6.6 0a3.3 3.3 0 1 0 -6.6 0M1276.2 323.75a3.3 3.3 0 1 0 6.6 0a3.3 3.3 0 1 0 -6.6 0M1285.5 327.85a3.3 3.3 0 1 0 6.6 0a3.3 3.3 0 1 0 -6.6 0M1294.9 332a3.3 3.3 0 1 0 6.6 0a3.3 3.3 0 1 0 -6.6 0M1304.5 335.9a3.3 3.3 0 1 0 6.6 0a3.3 3.3 0 1 0 -6.6 0M1314.1 339.8a3.3 3.3 0 1 0 6.6 0a3.3 3.3 0 1 0 -6.6 0M1323.5 343.45a3.3 3.3 0 1 0 6.6 0a3.3 3.3 0 1 0 -6.6 0M1334.2 347.6a3.3 3.3 0 1 0 6.6 0a3.3 3.3 0 1 0 -6.6 0M1386.7 352.29a3.3 3.3 0 1 0 6.6 0a3.3 3.3 0 1 0 -6.6 0M1393.7 359.9a3.3 3.3 0 1 0 6.6 0a3.3 3.3 0 1 0 -6.6 0M1398.3 363.6a3.3 3.3 0 1 0 6.6 0a3.3 3.3 0 1 0 -6.6 0M1405.45 368.03a3.3 3.3 0 1 0 6.6 0a3.3 3.3 0 1 0 -6.6 0M1413.5 372.19a3.3 3.3 0 1 0 6.6 0a3.3 3.3 0 1 0 -6.6 0M1423.3 376.04a3.3 3.3 0 1 0 6.6 0a3.3 3.3 0 1 0 -6.6 0M1435.3 380.26a3.3 3.3 0 1 0 6.6 0a3.3 3.3 0 1 0 -6.6 0M1448.3 384.73a3.3 3.3 0 1 0 6.6 0a3.3 3.3 0 1 0 -6.6 0M1462.6 389.23a3.3 3.3 0 1 0 6.6 0a3.3 3.3 0 1 0 -6.6 0M1476.9 392.97a3.3 3.3 0 1 0 6.6 0a3.3 3.3 0 1 0 -6.6 0M1492.1 397.26a3.3 3.3 0 1 0 6.6 0a3.3 3.3 0 1 0 -6.6 0M1507.7 401.6a3.3 3.3 0 1 0 6.6 0a3.3 3.3 0 1 0 -6.6 0M1525.1 405.62a3.3 3.3 0 1 0 6.6 0a3.3 3.3 0 1 0 -6.6 0M1542.95 409.66a3.3 3.3 0 1 0 6.6 0a3.3 3.3 0 1 0 -6.6 0M1560.7 414a3.3 3.3 0 1 0 6.6 0a3.3 3.3 0 1 0 -6.6 0M1578.5 418a3.3 3.3 0 1 0 6.6 0a3.3 3.3 0 1 0 -6.6 0M1596.4 422.5a3.3 3.3 0 1 0 6.6 0a3.3 3.3 0 1 0 -6.6 0M1615.4 426.25a3.3 3.3 0 1 0 6.6 0a3.3 3.3 0 1 0 -6.6 0M1634.3 430.3a3.3 3.3 0 1 0 6.6 0a3.3 3.3 0 1 0 -6.6 0M1664.7 390.89a3.3 3.3 0 1 0 6.6 0a3.3 3.3 0 1 0 -6.6 0M1674.7 405.34a3.3 3.3 0 1 0 6.6 0a3.3 3.3 0 1 0 -6.6 0M1682.7 414.68a3.3 3.3 0 1 0 6.6 0a3.3 3.3 0 1 0 -6.6 0M1688.7 421.51a3.3 3.3 0 1 0 6.6 0a3.3 3.3 0 1 0 -6.6 0M1693.5 426.9a3.3 3.3 0 1 0 6.6 0a3.3 3.3 0 1 0 -6.6 0M1698.4 430.3a3.3 3.3 0 1 0 6.6 0a3.3 3.3 0 1 0 -6.6 0M1704.6 434.7a3.3 3.3 0 1 0 6.6 0a3.3 3.3 0 1 0 -6.6 0M1711.3 438a3.3 3.3 0 1 0 6.6 0a3.3 3.3 0 1 0 -6.6 0M1718 442.5a3.3 3.3 0 1 0 6.6 0a3.3 3.3 0 1 0 -6.6 0M1725.9 446.3a3.3 3.3 0 1 0 6.6 0a3.3 3.3 0 1 0 -6.6 0M1737.7 450.4a3.3 3.3 0 1 0 6.6 0a3.3 3.3 0 1 0 -6.6 0" fill="#545457"/>
<g stroke="#545457" stroke-width="3" fill="none" stroke-linecap="round" stroke-linejoin="round"><path d="M1645.4 166V242.5"/><path d="M1639.2 173.5L1645.4 165.5L1651.6 173.5"/><path d="M1639.2 235L1645.4 243L1651.6 235"/></g>
<text x="1013.82" y="34.99" font-size="45" fill="#4e4e50">3</text>
<text x="972.89" y="235.74" font-size="45" fill="#4e4e50">2.5</text>
<text x="1013.64" y="437.81" font-size="45" fill="#4e4e50">2</text>
<text x="1046.49" y="597.39" font-size="45" fill="#4e4e50">0</text>
<text x="1100.85" y="597.39" font-size="45" fill="#4e4e50">0.002</text>
<text x="1224.98" y="597.39" font-size="45" fill="#4e4e50">0.004</text>
<text x="1348.2" y="597.39" font-size="45" fill="#4e4e50">0.006</text>
<text x="1467.79" y="597.39" font-size="45" fill="#4e4e50">0.008</text>
<text x="1597.78" y="597.39" font-size="45" fill="#4e4e50">0.01</text>
<text x="1704.6" y="597.39" font-size="45" fill="#4e4e50">0.012</text>
<text x="1082.5" y="80.92" font-size="54" fill="#4e4e50">(b)</text>
<text x="1346.29" y="654.6" font-size="45" fill="#4e4e50">x in Li<tspan font-size="26" dy="14.5">x</tspan><tspan dy="-14.5">Te</tspan></text>
<text transform="translate(953.6 486.7) rotate(-90)" font-size="45" fill="#4e4e50">Voltage(V, vs. Li/Li<tspan font-size="26" dy="-13.5">+</tspan><tspan dy="13.5">)</tspan></text>
<text x="1248.3" y="425.5" font-size="34" fill="#4e4e50" textLength="237" lengthAdjust="spacing">I dE/d√t region I</text>
<text x="1656.2" y="215.5" font-size="46.5" fill="#4e4e50">ΔE<tspan font-size="27" dy="15.5" dx="1">s</tspan></text>
<path d="M136.6 715.1H849.2V1237.3H136.6ZM279.12 1237.3v-7.7M279.12 715.1v7.7M421.64 1237.3v-7.7M421.64 715.1v7.7M564.16 1237.3v-7.7M564.16 715.1v7.7M706.68 1237.3v-7.7M706.68 715.1v7.7M136.6 1106.75h7.7M849.2 1106.75h-7.7M136.6 976.2h7.7M849.2 976.2h-7.7M136.6 845.65h7.7M849.2 845.65h-7.7" fill="none" stroke="#68696e" stroke-width="1.9" stroke-linecap="square"/>
<path d="M151.7 810.9a6.7 6.7 0 1 0 13.4 0a6.7 6.7 0 1 0 -13.4 0M163.1 824.3a6.7 6.7 0 1 0 13.4 0a6.7 6.7 0 1 0 -13.4 0M172.1 837.7a6.7 6.7 0 1 0 13.4 0a6.7 6.7 0 1 0 -13.4 0M180.2 851.1a6.7 6.7 0 1 0 13.4 0a6.7 6.7 0 1 0 -13.4 0M187.2 864.2a6.7 6.7 0 1 0 13.4 0a6.7 6.7 0 1 0 -13.4 0M194.4 877.9a6.7 6.7 0 1 0 13.4 0a6.7 6.7 0 1 0 -13.4 0M201.1 891.3a6.7 6.7 0 1 0 13.4 0a6.7 6.7 0 1 0 -13.4 0M208.3 904.7a6.7 6.7 0 1 0 13.4 0a6.7 6.7 0 1 0 -13.4 0M215.3 918.1a6.7 6.7 0 1 0 13.4 0a6.7 6.7 0 1 0 -13.4 0M222.9 931.1a6.7 6.7 0 1 0 13.4 0a6.7 6.7 0 1 0 -13.4 0M230.7 944.5a6.7 6.7 0 1 0 13.4 0a6.7 6.7 0 1 0 -13.4 0M239.1 957.9a6.7 6.7 0 1 0 13.4 0a6.7 6.7 0 1 0 -13.4 0M248 971.3a6.7 6.7 0 1 0 13.4 0a6.7 6.7 0 1 0 -13.4 0M257.7 984.5a6.7 6.7 0 1 0 13.4 0a6.7 6.7 0 1 0 -13.4 0M267.7 997.9a6.7 6.7 0 1 0 13.4 0a6.7 6.7 0 1 0 -13.4 0M278.5 1011a6.7 6.7 0 1 0 13.4 0a6.7 6.7 0 1 0 -13.4 0M290.2 1024.4a6.7 6.7 0 1 0 13.4 0a6.7 6.7 0 1 0 -13.4 0M302.4 1037.8a6.7 6.7 0 1 0 13.4 0a6.7 6.7 0 1 0 -13.4 0M315.8 1051.2a6.7 6.7 0 1 0 13.4 0a6.7 6.7 0 1 0 -13.4 0M329.5 1064.6a6.7 6.7 0 1 0 13.4 0a6.7 6.7 0 1 0 -13.4 0M344.55 1077.8a6.7 6.7 0 1 0 13.4 0a6.7 6.7 0 1 0 -13.4 0M361.4 1091.4a6.7 6.7 0 1 0 13.4 0a6.7 6.7 0 1 0 -13.4 0M379.7 1104.6a6.7 6.7 0 1 0 13.4 0a6.7 6.7 0 1 0 -13.4 0M400.6 1118a6.7 6.7 0 1 0 13.4 0a6.7 6.7 0 1 0 -13.4 0M424.2 1131.3a6.7 6.7 0 1 0 13.4 0a6.7 6.7 0 1 0 -13.4 0M488.7 1118a6.7 6.7 0 1 0 13.4 0a6.7 6.7 0 1 0 -13.4 0M527.8 1104.6a6.7 6.7 0 1 0 13.4 0a6.7 6.7 0 1 0 -13.4 0M659.1 1091.5a6.7 6.7 0 1 0 13.4 0a6.7 6.7 0 1 0 -13.4 0M734.8 1089.4a6.7 6.7 0 1 0 13.4 0a6.7 6.7 0 1 0 -13.4 0" fill="#545457"/>
<path d="M408 1130.4L733.7 1088.2" stroke="#5e5e62" stroke-width="2" stroke-dasharray="32 12.6 8.8 11.8"/>
<path d="M456.9 791.2a6.7 6.7 0 1 0 13.4 0a6.7 6.7 0 1 0 -13.4 0" fill="#545457"/>
<path d="M417 838H449.8M462.6 838H470M482.7 838H509.8" stroke="#5e5e62" stroke-width="2"/>
<text x="537.78" y="804.92" font-size="40.5" fill="#4e4e50">pulse region</text>
<text x="536.73" y="852.38" font-size="40.5" fill="#4e4e50">linear fit</text>
<text x="91.64" y="725.51" font-size="45" fill="#4e4e50">2</text>
<text x="58.72" y="857.04" font-size="45" fill="#4e4e50">1.9</text>
<text x="58.64" y="987.04" font-size="45" fill="#4e4e50">1.8</text>
<text x="58.79" y="1117.73" font-size="45" fill="#4e4e50">1.7</text>
<text x="58.65" y="1247.14" font-size="45" fill="#4e4e50">1.6</text>
<text x="111.49" y="1301.29" font-size="45" fill="#4e4e50">0</text>
<text x="246.59" y="1301.29" font-size="45" fill="#4e4e50">10</text>
<text x="391.47" y="1301.29" font-size="45" fill="#4e4e50">20</text>
<text x="537.65" y="1301.29" font-size="45" fill="#4e4e50">30</text>
<text x="683.99" y="1301.29" font-size="45" fill="#4e4e50">40</text>
<text x="829.05" y="1301.29" font-size="45" fill="#4e4e50">50</text>
<text x="161.52" y="779.87" font-size="54" fill="#4e4e50">(c)</text>
<text x="455.5" y="1359.8" font-size="45" fill="#4e4e50">t<tspan font-size="26" dy="-14.5" dx="1.5">1/2</tspan><tspan dy="14.5" dx="2.5"> (s</tspan><tspan font-size="26" dy="-14.5" dx="0.5">1/2</tspan><tspan dy="14.5">)</tspan></text>
<text transform="translate(36 1172.2) rotate(-90)" font-size="45" fill="#4e4e50">Voltage (V, vs. Li/Li<tspan font-size="26" dy="-13.5">+</tspan><tspan dy="13.5">)</tspan></text>
<path d="M1058.9 713H1761.4V1231.2H1058.9ZM1199.4 1231.2v-7.7M1199.4 713v7.7M1339.9 1231.2v-7.7M1339.9 713v7.7M1480.4 1231.2v-7.7M1480.4 713v7.7M1620.9 1231.2v-7.7M1620.9 713v7.7M1058.9 1015.4h7.7M1761.4 1015.4h-7.7M1058.9 799.6h7.7M1761.4 799.6h-7.7" fill="none" stroke="#68696e" stroke-width="1.9" stroke-linecap="square"/>
<path d="M1079.2 1229.2a6.8 6.8 0 1 0 13.6 0a6.8 6.8 0 1 0 -13.6 0M1082.7 1229.2a6.8 6.8 0 1 0 13.6 0a6.8 6.8 0 1 0 -13.6 0M1086.2 1229.2a6.8 6.8 0 1 0 13.6 0a6.8 6.8 0 1 0 -13.6 0M1089.7 1229.2a6.8 6.8 0 1 0 13.6 0a6.8 6.8 0 1 0 -13.6 0M1093.2 1229.2a6.8 6.8 0 1 0 13.6 0a6.8 6.8 0 1 0 -13.6 0M1096.7 1229.2a6.8 6.8 0 1 0 13.6 0a6.8 6.8 0 1 0 -13.6 0M1100.2 1229.2a6.8 6.8 0 1 0 13.6 0a6.8 6.8 0 1 0 -13.6 0M1103.7 1229.2a6.8 6.8 0 1 0 13.6 0a6.8 6.8 0 1 0 -13.6 0M1107.2 1229.2a6.8 6.8 0 1 0 13.6 0a6.8 6.8 0 1 0 -13.6 0M1110.7 1229.2a6.8 6.8 0 1 0 13.6 0a6.8 6.8 0 1 0 -13.6 0M1114.2 1229.2a6.8 6.8 0 1 0 13.6 0a6.8 6.8 0 1 0 -13.6 0M1117.7 1229.2a6.8 6.8 0 1 0 13.6 0a6.8 6.8 0 1 0 -13.6 0M1121.2 1229.2a6.8 6.8 0 1 0 13.6 0a6.8 6.8 0 1 0 -13.6 0M1124.7 1229.2a6.8 6.8 0 1 0 13.6 0a6.8 6.8 0 1 0 -13.6 0M1128.2 1229.2a6.8 6.8 0 1 0 13.6 0a6.8 6.8 0 1 0 -13.6 0M1131.7 1229.2a6.8 6.8 0 1 0 13.6 0a6.8 6.8 0 1 0 -13.6 0M1135.2 1229.2a6.8 6.8 0 1 0 13.6 0a6.8 6.8 0 1 0 -13.6 0M1138.7 1229.2a6.8 6.8 0 1 0 13.6 0a6.8 6.8 0 1 0 -13.6 0M1142.2 1229.2a6.8 6.8 0 1 0 13.6 0a6.8 6.8 0 1 0 -13.6 0M1145.7 1229.2a6.8 6.8 0 1 0 13.6 0a6.8 6.8 0 1 0 -13.6 0M1149.2 1229.2a6.8 6.8 0 1 0 13.6 0a6.8 6.8 0 1 0 -13.6 0M1152.7 1229.2a6.8 6.8 0 1 0 13.6 0a6.8 6.8 0 1 0 -13.6 0M1156.2 1229.2a6.8 6.8 0 1 0 13.6 0a6.8 6.8 0 1 0 -13.6 0M1159.7 1229.2a6.8 6.8 0 1 0 13.6 0a6.8 6.8 0 1 0 -13.6 0M1163.2 1229.2a6.8 6.8 0 1 0 13.6 0a6.8 6.8 0 1 0 -13.6 0M1166.7 1229.2a6.8 6.8 0 1 0 13.6 0a6.8 6.8 0 1 0 -13.6 0M1170.2 1229.2a6.8 6.8 0 1 0 13.6 0a6.8 6.8 0 1 0 -13.6 0M1173.7 1229.2a6.8 6.8 0 1 0 13.6 0a6.8 6.8 0 1 0 -13.6 0M1177.2 1229.2a6.8 6.8 0 1 0 13.6 0a6.8 6.8 0 1 0 -13.6 0M1180.7 1229.2a6.8 6.8 0 1 0 13.6 0a6.8 6.8 0 1 0 -13.6 0M1184.2 1229.2a6.8 6.8 0 1 0 13.6 0a6.8 6.8 0 1 0 -13.6 0M1187.7 1229.2a6.8 6.8 0 1 0 13.6 0a6.8 6.8 0 1 0 -13.6 0M1191.2 1229.2a6.8 6.8 0 1 0 13.6 0a6.8 6.8 0 1 0 -13.6 0M1194.7 1229.2a6.8 6.8 0 1 0 13.6 0a6.8 6.8 0 1 0 -13.6 0M1198.2 1229.2a6.8 6.8 0 1 0 13.6 0a6.8 6.8 0 1 0 -13.6 0M1201.7 1229.2a6.8 6.8 0 1 0 13.6 0a6.8 6.8 0 1 0 -13.6 0M1205.2 1229.2a6.8 6.8 0 1 0 13.6 0a6.8 6.8 0 1 0 -13.6 0M1208.7 1229.2a6.8 6.8 0 1 0 13.6 0a6.8 6.8 0 1 0 -13.6 0M1212.2 1229.2a6.8 6.8 0 1 0 13.6 0a6.8 6.8 0 1 0 -13.6 0M1215.7 1229.2a6.8 6.8 0 1 0 13.6 0a6.8 6.8 0 1 0 -13.6 0M1219.2 1229.2a6.8 6.8 0 1 0 13.6 0a6.8 6.8 0 1 0 -13.6 0M1222.7 1229.2a6.8 6.8 0 1 0 13.6 0a6.8 6.8 0 1 0 -13.6 0M1226.2 1229.2a6.8 6.8 0 1 0 13.6 0a6.8 6.8 0 1 0 -13.6 0M1229.7 1229.2a6.8 6.8 0 1 0 13.6 0a6.8 6.8 0 1 0 -13.6 0M1233.2 1229.2a6.8 6.8 0 1 0 13.6 0a6.8 6.8 0 1 0 -13.6 0M1236.7 1229.2a6.8 6.8 0 1 0 13.6 0a6.8 6.8 0 1 0 -13.6 0M1240.2 1229.2a6.8 6.8 0 1 0 13.6 0a6.8 6.8 0 1 0 -13.6 0M1243.7 1229.2a6.8 6.8 0 1 0 13.6 0a6.8 6.8 0 1 0 -13.6 0M1247.2 1229.2a6.8 6.8 0 1 0 13.6 0a6.8 6.8 0 1 0 -13.6 0M1250.7 1229.2a6.8 6.8 0 1 0 13.6 0a6.8 6.8 0 1 0 -13.6 0M1254.2 1229.2a6.8 6.8 0 1 0 13.6 0a6.8 6.8 0 1 0 -13.6 0M1257.7 1229.2a6.8 6.8 0 1 0 13.6 0a6.8 6.8 0 1 0 -13.6 0M1261.2 1229.2a6.8 6.8 0 1 0 13.6 0a6.8 6.8 0 1 0 -13.6 0M1264.7 1229.2a6.8 6.8 0 1 0 13.6 0a6.8 6.8 0 1 0 -13.6 0M1268.2 1229.2a6.8 6.8 0 1 0 13.6 0a6.8 6.8 0 1 0 -13.6 0M1271.7 1229.2a6.8 6.8 0 1 0 13.6 0a6.8 6.8 0 1 0 -13.6 0M1275.2 1229.2a6.8 6.8 0 1 0 13.6 0a6.8 6.8 0 1 0 -13.6 0M1278.7 1229.2a6.8 6.8 0 1 0 13.6 0a6.8 6.8 0 1 0 -13.6 0M1282.2 1229.2a6.8 6.8 0 1 0 13.6 0a6.8 6.8 0 1 0 -13.6 0M1285.7 1229.2a6.8 6.8 0 1 0 13.6 0a6.8 6.8 0 1 0 -13.6 0M1289.2 1229.2a6.8 6.8 0 1 0 13.6 0a6.8 6.8 0 1 0 -13.6 0M1292.7 1229.2a6.8 6.8 0 1 0 13.6 0a6.8 6.8 0 1 0 -13.6 0M1296.2 1229.2a6.8 6.8 0 1 0 13.6 0a6.8 6.8 0 1 0 -13.6 0M1299.7 1229.2a6.8 6.8 0 1 0 13.6 0a6.8 6.8 0 1 0 -13.6 0M1303.2 1229.2a6.8 6.8 0 1 0 13.6 0a6.8 6.8 0 1 0 -13.6 0M1306.7 1229.2a6.8 6.8 0 1 0 13.6 0a6.8 6.8 0 1 0 -13.6 0M1310.2 1229.2a6.8 6.8 0 1 0 13.6 0a6.8 6.8 0 1 0 -13.6 0M1313.7 1229.2a6.8 6.8 0 1 0 13.6 0a6.8 6.8 0 1 0 -13.6 0M1317.2 1229.2a6.8 6.8 0 1 0 13.6 0a6.8 6.8 0 1 0 -13.6 0M1320.7 1229.2a6.8 6.8 0 1 0 13.6 0a6.8 6.8 0 1 0 -13.6 0M1324.2 1229.2a6.8 6.8 0 1 0 13.6 0a6.8 6.8 0 1 0 -13.6 0M1327.7 1229.2a6.8 6.8 0 1 0 13.6 0a6.8 6.8 0 1 0 -13.6 0M1331.2 1229.2a6.8 6.8 0 1 0 13.6 0a6.8 6.8 0 1 0 -13.6 0M1334.7 1229.2a6.8 6.8 0 1 0 13.6 0a6.8 6.8 0 1 0 -13.6 0M1338.2 1229.2a6.8 6.8 0 1 0 13.6 0a6.8 6.8 0 1 0 -13.6 0M1341.7 1229.2a6.8 6.8 0 1 0 13.6 0a6.8 6.8 0 1 0 -13.6 0M1345.2 1229.2a6.8 6.8 0 1 0 13.6 0a6.8 6.8 0 1 0 -13.6 0M1348.7 1229.2a6.8 6.8 0 1 0 13.6 0a6.8 6.8 0 1 0 -13.6 0M1352.2 1229.2a6.8 6.8 0 1 0 13.6 0a6.8 6.8 0 1 0 -13.6 0M1355.7 1229.2a6.8 6.8 0 1 0 13.6 0a6.8 6.8 0 1 0 -13.6 0M1359.2 1229.2a6.8 6.8 0 1 0 13.6 0a6.8 6.8 0 1 0 -13.6 0M1362.7 1229.2a6.8 6.8 0 1 0 13.6 0a6.8 6.8 0 1 0 -13.6 0M1366.2 1229.2a6.8 6.8 0 1 0 13.6 0a6.8 6.8 0 1 0 -13.6 0M1369.7 1229.2a6.8 6.8 0 1 0 13.6 0a6.8 6.8 0 1 0 -13.6 0M1373.2 1229.2a6.8 6.8 0 1 0 13.6 0a6.8 6.8 0 1 0 -13.6 0M1376.7 1229.2a6.8 6.8 0 1 0 13.6 0a6.8 6.8 0 1 0 -13.6 0M1380.2 1229.2a6.8 6.8 0 1 0 13.6 0a6.8 6.8 0 1 0 -13.6 0M1383.7 1229.2a6.8 6.8 0 1 0 13.6 0a6.8 6.8 0 1 0 -13.6 0M1387.2 1229.2a6.8 6.8 0 1 0 13.6 0a6.8 6.8 0 1 0 -13.6 0M1390.7 1229.2a6.8 6.8 0 1 0 13.6 0a6.8 6.8 0 1 0 -13.6 0M1394.2 1229.2a6.8 6.8 0 1 0 13.6 0a6.8 6.8 0 1 0 -13.6 0M1397.7 1229.2a6.8 6.8 0 1 0 13.6 0a6.8 6.8 0 1 0 -13.6 0M1401.2 1229.2a6.8 6.8 0 1 0 13.6 0a6.8 6.8 0 1 0 -13.6 0M1404.7 1229.2a6.8 6.8 0 1 0 13.6 0a6.8 6.8 0 1 0 -13.6 0M1408.2 1229.2a6.8 6.8 0 1 0 13.6 0a6.8 6.8 0 1 0 -13.6 0M1411.7 1229.2a6.8 6.8 0 1 0 13.6 0a6.8 6.8 0 1 0 -13.6 0M1415.2 1229.2a6.8 6.8 0 1 0 13.6 0a6.8 6.8 0 1 0 -13.6 0M1418.7 1229.2a6.8 6.8 0 1 0 13.6 0a6.8 6.8 0 1 0 -13.6 0M1422.2 1229.2a6.8 6.8 0 1 0 13.6 0a6.8 6.8 0 1 0 -13.6 0M1425.7 1229.2a6.8 6.8 0 1 0 13.6 0a6.8 6.8 0 1 0 -13.6 0M1429.2 1229.2a6.8 6.8 0 1 0 13.6 0a6.8 6.8 0 1 0 -13.6 0M1432.7 1229.2a6.8 6.8 0 1 0 13.6 0a6.8 6.8 0 1 0 -13.6 0M1436.2 1229.2a6.8 6.8 0 1 0 13.6 0a6.8 6.8 0 1 0 -13.6 0M1439.7 1229.2a6.8 6.8 0 1 0 13.6 0a6.8 6.8 0 1 0 -13.6 0M1443.2 1229.2a6.8 6.8 0 1 0 13.6 0a6.8 6.8 0 1 0 -13.6 0M1446.7 1229.2a6.8 6.8 0 1 0 13.6 0a6.8 6.8 0 1 0 -13.6 0M1450.2 1229.2a6.8 6.8 0 1 0 13.6 0a6.8 6.8 0 1 0 -13.6 0M1453.7 1229.2a6.8 6.8 0 1 0 13.6 0a6.8 6.8 0 1 0 -13.6 0M1457.2 1229.2a6.8 6.8 0 1 0 13.6 0a6.8 6.8 0 1 0 -13.6 0M1460.7 1229.2a6.8 6.8 0 1 0 13.6 0a6.8 6.8 0 1 0 -13.6 0M1464.2 1229.2a6.8 6.8 0 1 0 13.6 0a6.8 6.8 0 1 0 -13.6 0M1467.7 1229.2a6.8 6.8 0 1 0 13.6 0a6.8 6.8 0 1 0 -13.6 0M1471.2 1229.2a6.8 6.8 0 1 0 13.6 0a6.8 6.8 0 1 0 -13.6 0M1474.7 1229.2a6.8 6.8 0 1 0 13.6 0a6.8 6.8 0 1 0 -13.6 0M1478.2 1229.2a6.8 6.8 0 1 0 13.6 0a6.8 6.8 0 1 0 -13.6 0M1481.7 1229.2a6.8 6.8 0 1 0 13.6 0a6.8 6.8 0 1 0 -13.6 0M1485.2 1229.2a6.8 6.8 0 1 0 13.6 0a6.8 6.8 0 1 0 -13.6 0M1488.7 1229.2a6.8 6.8 0 1 0 13.6 0a6.8 6.8 0 1 0 -13.6 0M1492.2 1229.2a6.8 6.8 0 1 0 13.6 0a6.8 6.8 0 1 0 -13.6 0M1495.7 1229.2a6.8 6.8 0 1 0 13.6 0a6.8 6.8 0 1 0 -13.6 0M1499.2 1229.2a6.8 6.8 0 1 0 13.6 0a6.8 6.8 0 1 0 -13.6 0M1502.7 1229.2a6.8 6.8 0 1 0 13.6 0a6.8 6.8 0 1 0 -13.6 0M1506.2 1229.2a6.8 6.8 0 1 0 13.6 0a6.8 6.8 0 1 0 -13.6 0M1509.7 1229.2a6.8 6.8 0 1 0 13.6 0a6.8 6.8 0 1 0 -13.6 0M1513.2 1229.2a6.8 6.8 0 1 0 13.6 0a6.8 6.8 0 1 0 -13.6 0M1516.7 1229.2a6.8 6.8 0 1 0 13.6 0a6.8 6.8 0 1 0 -13.6 0M1520.2 1229.2a6.8 6.8 0 1 0 13.6 0a6.8 6.8 0 1 0 -13.6 0M1523.7 1229.2a6.8 6.8 0 1 0 13.6 0a6.8 6.8 0 1 0 -13.6 0M1527.2 1229.2a6.8 6.8 0 1 0 13.6 0a6.8 6.8 0 1 0 -13.6 0M1530.7 1229.2a6.8 6.8 0 1 0 13.6 0a6.8 6.8 0 1 0 -13.6 0M1534.2 1229.2a6.8 6.8 0 1 0 13.6 0a6.8 6.8 0 1 0 -13.6 0M1537.7 1229.2a6.8 6.8 0 1 0 13.6 0a6.8 6.8 0 1 0 -13.6 0M1541.2 1229.2a6.8 6.8 0 1 0 13.6 0a6.8 6.8 0 1 0 -13.6 0M1544.7 1229.2a6.8 6.8 0 1 0 13.6 0a6.8 6.8 0 1 0 -13.6 0M1548.2 1229.2a6.8 6.8 0 1 0 13.6 0a6.8 6.8 0 1 0 -13.6 0M1551.7 1229.2a6.8 6.8 0 1 0 13.6 0a6.8 6.8 0 1 0 -13.6 0M1555.2 1229.2a6.8 6.8 0 1 0 13.6 0a6.8 6.8 0 1 0 -13.6 0M1558.7 1229.2a6.8 6.8 0 1 0 13.6 0a6.8 6.8 0 1 0 -13.6 0M1562.2 1229.2a6.8 6.8 0 1 0 13.6 0a6.8 6.8 0 1 0 -13.6 0M1565.7 1229.2a6.8 6.8 0 1 0 13.6 0a6.8 6.8 0 1 0 -13.6 0M1569.2 1229.2a6.8 6.8 0 1 0 13.6 0a6.8 6.8 0 1 0 -13.6 0M1572.7 1229.2a6.8 6.8 0 1 0 13.6 0a6.8 6.8 0 1 0 -13.6 0M1576.2 1229.2a6.8 6.8 0 1 0 13.6 0a6.8 6.8 0 1 0 -13.6 0M1579.7 1229.2a6.8 6.8 0 1 0 13.6 0a6.8 6.8 0 1 0 -13.6 0M1583.2 1229.2a6.8 6.8 0 1 0 13.6 0a6.8 6.8 0 1 0 -13.6 0M1586.7 1229.2a6.8 6.8 0 1 0 13.6 0a6.8 6.8 0 1 0 -13.6 0M1590.2 1229.2a6.8 6.8 0 1 0 13.6 0a6.8 6.8 0 1 0 -13.6 0M1593.7 1229.2a6.8 6.8 0 1 0 13.6 0a6.8 6.8 0 1 0 -13.6 0M1597.2 1229.2a6.8 6.8 0 1 0 13.6 0a6.8 6.8 0 1 0 -13.6 0M1600.7 1229.2a6.8 6.8 0 1 0 13.6 0a6.8 6.8 0 1 0 -13.6 0M1604.2 1229.2a6.8 6.8 0 1 0 13.6 0a6.8 6.8 0 1 0 -13.6 0M1607.7 1229.2a6.8 6.8 0 1 0 13.6 0a6.8 6.8 0 1 0 -13.6 0M1611.2 1229.2a6.8 6.8 0 1 0 13.6 0a6.8 6.8 0 1 0 -13.6 0M1614.7 1229.2a6.8 6.8 0 1 0 13.6 0a6.8 6.8 0 1 0 -13.6 0M1618.2 1229.2a6.8 6.8 0 1 0 13.6 0a6.8 6.8 0 1 0 -13.6 0M1621.7 1229.2a6.8 6.8 0 1 0 13.6 0a6.8 6.8 0 1 0 -13.6 0M1625.2 1229.2a6.8 6.8 0 1 0 13.6 0a6.8 6.8 0 1 0 -13.6 0M1628.7 1229.2a6.8 6.8 0 1 0 13.6 0a6.8 6.8 0 1 0 -13.6 0M1632.2 1229.2a6.8 6.8 0 1 0 13.6 0a6.8 6.8 0 1 0 -13.6 0M1076.8 1226.5a6.8 6.8 0 1 0 13.6 0a6.8 6.8 0 1 0 -13.6 0M1083.2 1228a6.8 6.8 0 1 0 13.6 0a6.8 6.8 0 1 0 -13.6 0M1055.7 1021.5a6.8 6.8 0 1 0 13.6 0a6.8 6.8 0 1 0 -13.6 0M1059 1125.2a6.8 6.8 0 1 0 13.6 0a6.8 6.8 0 1 0 -13.6 0M1069.7 1139.3a6.8 6.8 0 1 0 13.6 0a6.8 6.8 0 1 0 -13.6 0M1062.7 1162.7a6.8 6.8 0 1 0 13.6 0a6.8 6.8 0 1 0 -13.6 0M1073.3 1170.7a6.8 6.8 0 1 0 13.6 0a6.8 6.8 0 1 0 -13.6 0M1066.1 1186.9a6.8 6.8 0 1 0 13.6 0a6.8 6.8 0 1 0 -13.6 0M1519.2 1226.5a6.8 6.8 0 1 0 13.6 0a6.8 6.8 0 1 0 -13.6 0M1545.2 1227a6.8 6.8 0 1 0 13.6 0a6.8 6.8 0 1 0 -13.6 0M1626.9 1228a6.8 6.8 0 1 0 13.6 0a6.8 6.8 0 1 0 -13.6 0M1639.2 1221.2a6.8 6.8 0 1 0 13.6 0a6.8 6.8 0 1 0 -13.6 0M1643.2 1226a6.8 6.8 0 1 0 13.6 0a6.8 6.8 0 1 0 -13.6 0M1651.2 1226a6.8 6.8 0 1 0 13.6 0a6.8 6.8 0 1 0 -13.6 0M1657.6 1225a6.8 6.8 0 1 0 13.6 0a6.8 6.8 0 1 0 -13.6 0M1663.7 1218.1a6.8 6.8 0 1 0 13.6 0a6.8 6.8 0 1 0 -13.6 0M1670.8 1178a6.8 6.8 0 1 0 13.6 0a6.8 6.8 0 1 0 -13.6 0M1676 1179.5a6.8 6.8 0 1 0 13.6 0a6.8 6.8 0 1 0 -13.6 0M1666.4 1190.5a6.8 6.8 0 1 0 13.6 0a6.8 6.8 0 1 0 -13.6 0M1677.8 1196.4a6.8 6.8 0 1 0 13.6 0a6.8 6.8 0 1 0 -13.6 0M1681.5 1210.8a6.8 6.8 0 1 0 13.6 0a6.8 6.8 0 1 0 -13.6 0M1684.2 1214.5a6.8 6.8 0 1 0 13.6 0a6.8 6.8 0 1 0 -13.6 0M1688.2 1217.5a6.8 6.8 0 1 0 13.6 0a6.8 6.8 0 1 0 -13.6 0M1692.2 1219.7a6.8 6.8 0 1 0 13.6 0a6.8 6.8 0 1 0 -13.6 0M1695.6 1221.2a6.8 6.8 0 1 0 13.6 0a6.8 6.8 0 1 0 -13.6 0M1700.2 1222a6.8 6.8 0 1 0 13.6 0a6.8 6.8 0 1 0 -13.6 0M1706.7 1222.4a6.8 6.8 0 1 0 13.6 0a6.8 6.8 0 1 0 -13.6 0M1711.2 1222.8a6.8 6.8 0 1 0 13.6 0a6.8 6.8 0 1 0 -13.6 0M1717.2 1223.1a6.8 6.8 0 1 0 13.6 0a6.8 6.8 0 1 0 -13.6 0M1722.2 1223.4a6.8 6.8 0 1 0 13.6 0a6.8 6.8 0 1 0 -13.6 0M1727.5 1223.7a6.8 6.8 0 1 0 13.6 0a6.8 6.8 0 1 0 -13.6 0M1733.7 1231.6a6.8 6.8 0 1 0 13.6 0a6.8 6.8 0 1 0 -13.6 0M1730.8 757.8a6.8 6.8 0 1 0 13.6 0a6.8 6.8 0 1 0 -13.6 0" fill="#545457"/>
<rect x="1250.9" y="774.6" width="472" height="338.8" fill="#fff"/>
<path d="M1295.75 1113.4a4.75 4.75 0 1 0 9.5 0a4.75 4.75 0 1 0 -9.5 0M1314.65 1113.4a4.75 4.75 0 1 0 9.5 0a4.75 4.75 0 1 0 -9.5 0M1326.25 1113.4a4.75 4.75 0 1 0 9.5 0a4.75 4.75 0 1 0 -9.5 0M1333.65 1113.4a4.75 4.75 0 1 0 9.5 0a4.75 4.75 0 1 0 -9.5 0M1435.45 1113.4a4.75 4.75 0 1 0 9.5 0a4.75 4.75 0 1 0 -9.5 0M1461.95 1113.4a4.75 4.75 0 1 0 9.5 0a4.75 4.75 0 1 0 -9.5 0M1485.05 1113.4a4.75 4.75 0 1 0 9.5 0a4.75 4.75 0 1 0 -9.5 0M1489.25 1113.4a4.75 4.75 0 1 0 9.5 0a4.75 4.75 0 1 0 -9.5 0M1511.85 1113.4a4.75 4.75 0 1 0 9.5 0a4.75 4.75 0 1 0 -9.5 0M1523.35 1113.4a4.75 4.75 0 1 0 9.5 0a4.75 4.75 0 1 0 -9.5 0M1621.05 1113.4a4.75 4.75 0 1 0 9.5 0a4.75 4.75 0 1 0 -9.5 0M1704.05 1113.4a4.75 4.75 0 1 0 9.5 0a4.75 4.75 0 1 0 -9.5 0M1286.75 1096.15a4.75 4.75 0 1 0 9.5 0a4.75 4.75 0 1 0 -9.5 0M1291.45 1096.15a4.75 4.75 0 1 0 9.5 0a4.75 4.75 0 1 0 -9.5 0M1297.45 1096.15a4.75 4.75 0 1 0 9.5 0a4.75 4.75 0 1 0 -9.5 0M1301.45 1096.15a4.75 4.75 0 1 0 9.5 0a4.75 4.75 0 1 0 -9.5 0M1306.85 1096.15a4.75 4.75 0 1 0 9.5 0a4.75 4.75 0 1 0 -9.5 0M1312.25 1096.15a4.75 4.75 0 1 0 9.5 0a4.75 4.75 0 1 0 -9.5 0M1317.55 1096.15a4.75 4.75 0 1 0 9.5 0a4.75 4.75 0 1 0 -9.5 0M1322.95 1096.15a4.75 4.75 0 1 0 9.5 0a4.75 4.75 0 1 0 -9.5 0M1330.95 1096.15a4.75 4.75 0 1 0 9.5 0a4.75 4.75 0 1 0 -9.5 0M1345.65 1096.15a4.75 4.75 0 1 0 9.5 0a4.75 4.75 0 1 0 -9.5 0M1351.05 1096.15a4.75 4.75 0 1 0 9.5 0a4.75 4.75 0 1 0 -9.5 0M1424.05 1096.15a4.75 4.75 0 1 0 9.5 0a4.75 4.75 0 1 0 -9.5 0M1429.35 1096.15a4.75 4.75 0 1 0 9.5 0a4.75 4.75 0 1 0 -9.5 0M1440.75 1096.15a4.75 4.75 0 1 0 9.5 0a4.75 4.75 0 1 0 -9.5 0M1446.15 1096.15a4.75 4.75 0 1 0 9.5 0a4.75 4.75 0 1 0 -9.5 0M1451.45 1096.15a4.75 4.75 0 1 0 9.5 0a4.75 4.75 0 1 0 -9.5 0M1456.85 1096.15a4.75 4.75 0 1 0 9.5 0a4.75 4.75 0 1 0 -9.5 0M1462.85 1096.15a4.75 4.75 0 1 0 9.5 0a4.75 4.75 0 1 0 -9.5 0M1473.55 1096.15a4.75 4.75 0 1 0 9.5 0a4.75 4.75 0 1 0 -9.5 0M1478.25 1096.15a4.75 4.75 0 1 0 9.5 0a4.75 4.75 0 1 0 -9.5 0M1480.95 1096.15a4.75 4.75 0 1 0 9.5 0a4.75 4.75 0 1 0 -9.5 0M1492.65 1096.15a4.75 4.75 0 1 0 9.5 0a4.75 4.75 0 1 0 -9.5 0M1499.65 1096.15a4.75 4.75 0 1 0 9.5 0a4.75 4.75 0 1 0 -9.5 0M1514.35 1096.15a4.75 4.75 0 1 0 9.5 0a4.75 4.75 0 1 0 -9.5 0M1545.05 1096.15a4.75 4.75 0 1 0 9.5 0a4.75 4.75 0 1 0 -9.5 0M1547.75 1096.15a4.75 4.75 0 1 0 9.5 0a4.75 4.75 0 1 0 -9.5 0M1614.75 1096.15a4.75 4.75 0 1 0 9.5 0a4.75 4.75 0 1 0 -9.5 0M1623.85 1096.15a4.75 4.75 0 1 0 9.5 0a4.75 4.75 0 1 0 -9.5 0M1298.15 1078.9a4.75 4.75 0 1 0 9.5 0a4.75 4.75 0 1 0 -9.5 0M1307.55 1078.9a4.75 4.75 0 1 0 9.5 0a4.75 4.75 0 1 0 -9.5 0M1319.35 1078.9a4.75 4.75 0 1 0 9.5 0a4.75 4.75 0 1 0 -9.5 0M1328.95 1078.9a4.75 4.75 0 1 0 9.5 0a4.75 4.75 0 1 0 -9.5 0M1336.35 1078.9a4.75 4.75 0 1 0 9.5 0a4.75 4.75 0 1 0 -9.5 0M1341.05 1078.9a4.75 4.75 0 1 0 9.5 0a4.75 4.75 0 1 0 -9.5 0M1352.75 1078.9a4.75 4.75 0 1 0 9.5 0a4.75 4.75 0 1 0 -9.5 0M1367.15 1078.9a4.75 4.75 0 1 0 9.5 0a4.75 4.75 0 1 0 -9.5 0M1371.85 1078.9a4.75 4.75 0 1 0 9.5 0a4.75 4.75 0 1 0 -9.5 0M1433.45 1078.9a4.75 4.75 0 1 0 9.5 0a4.75 4.75 0 1 0 -9.5 0M1438.05 1078.9a4.75 4.75 0 1 0 9.5 0a4.75 4.75 0 1 0 -9.5 0M1466.25 1078.9a4.75 4.75 0 1 0 9.5 0a4.75 4.75 0 1 0 -9.5 0M1471.55 1078.9a4.75 4.75 0 1 0 9.5 0a4.75 4.75 0 1 0 -9.5 0M1476.65 1078.9a4.75 4.75 0 1 0 9.5 0a4.75 4.75 0 1 0 -9.5 0M1490.55 1078.9a4.75 4.75 0 1 0 9.5 0a4.75 4.75 0 1 0 -9.5 0M1497.55 1078.9a4.75 4.75 0 1 0 9.5 0a4.75 4.75 0 1 0 -9.5 0M1521.25 1078.9a4.75 4.75 0 1 0 9.5 0a4.75 4.75 0 1 0 -9.5 0M1540.45 1078.9a4.75 4.75 0 1 0 9.5 0a4.75 4.75 0 1 0 -9.5 0M1618.95 1078.9a4.75 4.75 0 1 0 9.5 0a4.75 4.75 0 1 0 -9.5 0M1283.85 1061.65a4.75 4.75 0 1 0 9.5 0a4.75 4.75 0 1 0 -9.5 0M1304.85 1061.65a4.75 4.75 0 1 0 9.5 0a4.75 4.75 0 1 0 -9.5 0M1312.25 1061.65a4.75 4.75 0 1 0 9.5 0a4.75 4.75 0 1 0 -9.5 0M1337.65 1061.65a4.75 4.75 0 1 0 9.5 0a4.75 4.75 0 1 0 -9.5 0M1343.05 1061.65a4.75 4.75 0 1 0 9.5 0a4.75 4.75 0 1 0 -9.5 0M1348.35 1061.65a4.75 4.75 0 1 0 9.5 0a4.75 4.75 0 1 0 -9.5 0M1364.45 1061.65a4.75 4.75 0 1 0 9.5 0a4.75 4.75 0 1 0 -9.5 0M1381.15 1061.65a4.75 4.75 0 1 0 9.5 0a4.75 4.75 0 1 0 -9.5 0M1409.95 1061.65a4.75 4.75 0 1 0 9.5 0a4.75 4.75 0 1 0 -9.5 0M1428.75 1061.65a4.75 4.75 0 1 0 9.5 0a4.75 4.75 0 1 0 -9.5 0M1483.65 1061.65a4.75 4.75 0 1 0 9.5 0a4.75 4.75 0 1 0 -9.5 0M1509.45 1061.65a4.75 4.75 0 1 0 9.5 0a4.75 4.75 0 1 0 -9.5 0M1517.15 1061.65a4.75 4.75 0 1 0 9.5 0a4.75 4.75 0 1 0 -9.5 0M1521.25 1061.65a4.75 4.75 0 1 0 9.5 0a4.75 4.75 0 1 0 -9.5 0M1526.15 1061.65a4.75 4.75 0 1 0 9.5 0a4.75 4.75 0 1 0 -9.5 0M1585.45 1061.65a4.75 4.75 0 1 0 9.5 0a4.75 4.75 0 1 0 -9.5 0M1593.85 1061.65a4.75 4.75 0 1 0 9.5 0a4.75 4.75 0 1 0 -9.5 0M1598.25 1061.65a4.75 4.75 0 1 0 9.5 0a4.75 4.75 0 1 0 -9.5 0M1603.55 1061.65a4.75 4.75 0 1 0 9.5 0a4.75 4.75 0 1 0 -9.5 0M1609.15 1061.65a4.75 4.75 0 1 0 9.5 0a4.75 4.75 0 1 0 -9.5 0M1612.65 1061.65a4.75 4.75 0 1 0 9.5 0a4.75 4.75 0 1 0 -9.5 0M1625.95 1061.65a4.75 4.75 0 1 0 9.5 0a4.75 4.75 0 1 0 -9.5 0M1276.35 1044.4a4.75 4.75 0 1 0 9.5 0a4.75 4.75 0 1 0 -9.5 0M1282.05 1044.4a4.75 4.75 0 1 0 9.5 0a4.75 4.75 0 1 0 -9.5 0M1355.05 1044.4a4.75 4.75 0 1 0 9.5 0a4.75 4.75 0 1 0 -9.5 0M1359.05 1044.4a4.75 4.75 0 1 0 9.5 0a4.75 4.75 0 1 0 -9.5 0M1363.15 1044.4a4.75 4.75 0 1 0 9.5 0a4.75 4.75 0 1 0 -9.5 0M1373.15 1044.4a4.75 4.75 0 1 0 9.5 0a4.75 4.75 0 1 0 -9.5 0M1377.15 1044.4a4.75 4.75 0 1 0 9.5 0a4.75 4.75 0 1 0 -9.5 0M1388.55 1044.4a4.75 4.75 0 1 0 9.5 0a4.75 4.75 0 1 0 -9.5 0M1397.95 1044.4a4.75 4.75 0 1 0 9.5 0a4.75 4.75 0 1 0 -9.5 0M1413.95 1044.4a4.75 4.75 0 1 0 9.5 0a4.75 4.75 0 1 0 -9.5 0M1418.05 1044.4a4.75 4.75 0 1 0 9.5 0a4.75 4.75 0 1 0 -9.5 0M1422.05 1044.4a4.75 4.75 0 1 0 9.5 0a4.75 4.75 0 1 0 -9.5 0M1447.45 1044.4a4.75 4.75 0 1 0 9.5 0a4.75 4.75 0 1 0 -9.5 0M1452.85 1044.4a4.75 4.75 0 1 0 9.5 0a4.75 4.75 0 1 0 -9.5 0M1478.75 1044.4a4.75 4.75 0 1 0 9.5 0a4.75 4.75 0 1 0 -9.5 0M1501.05 1044.4a4.75 4.75 0 1 0 9.5 0a4.75 4.75 0 1 0 -9.5 0M1505.95 1044.4a4.75 4.75 0 1 0 9.5 0a4.75 4.75 0 1 0 -9.5 0M1552.35 1044.4a4.75 4.75 0 1 0 9.5 0a4.75 4.75 0 1 0 -9.5 0M1569.05 1044.4a4.75 4.75 0 1 0 9.5 0a4.75 4.75 0 1 0 -9.5 0M1279.15 1027.15a4.75 4.75 0 1 0 9.5 0a4.75 4.75 0 1 0 -9.5 0M1359.75 1027.15a4.75 4.75 0 1 0 9.5 0a4.75 4.75 0 1 0 -9.5 0M1385.85 1027.15a4.75 4.75 0 1 0 9.5 0a4.75 4.75 0 1 0 -9.5 0M1402.85 1027.15a4.75 4.75 0 1 0 9.5 0a4.75 4.75 0 1 0 -9.5 0M1417.05 1027.15a4.75 4.75 0 1 0 9.5 0a4.75 4.75 0 1 0 -9.5 0M1549.85 1027.15a4.75 4.75 0 1 0 9.5 0a4.75 4.75 0 1 0 -9.5 0M1554.75 1027.15a4.75 4.75 0 1 0 9.5 0a4.75 4.75 0 1 0 -9.5 0M1602.25 1027.15a4.75 4.75 0 1 0 9.5 0a4.75 4.75 0 1 0 -9.5 0M1607.05 1027.15a4.75 4.75 0 1 0 9.5 0a4.75 4.75 0 1 0 -9.5 0M1383.45 1009.9a4.75 4.75 0 1 0 9.5 0a4.75 4.75 0 1 0 -9.5 0M1392.55 1009.9a4.75 4.75 0 1 0 9.5 0a4.75 4.75 0 1 0 -9.5 0M1396.55 1009.9a4.75 4.75 0 1 0 9.5 0a4.75 4.75 0 1 0 -9.5 0M1407.05 1009.9a4.75 4.75 0 1 0 9.5 0a4.75 4.75 0 1 0 -9.5 0M1411.95 1009.9a4.75 4.75 0 1 0 9.5 0a4.75 4.75 0 1 0 -9.5 0M1507.35 1009.9a4.75 4.75 0 1 0 9.5 0a4.75 4.75 0 1 0 -9.5 0M1528.65 1009.9a4.75 4.75 0 1 0 9.5 0a4.75 4.75 0 1 0 -9.5 0M1542.95 1009.9a4.75 4.75 0 1 0 9.5 0a4.75 4.75 0 1 0 -9.5 0M1561.75 1009.9a4.75 4.75 0 1 0 9.5 0a4.75 4.75 0 1 0 -9.5 0M1575.65 1009.9a4.75 4.75 0 1 0 9.5 0a4.75 4.75 0 1 0 -9.5 0M1583.35 1009.9a4.75 4.75 0 1 0 9.5 0a4.75 4.75 0 1 0 -9.5 0M1274.45 992.65a4.75 4.75 0 1 0 9.5 0a4.75 4.75 0 1 0 -9.5 0M1369.55 992.65a4.75 4.75 0 1 0 9.5 0a4.75 4.75 0 1 0 -9.5 0M1378.95 992.65a4.75 4.75 0 1 0 9.5 0a4.75 4.75 0 1 0 -9.5 0M1404.85 992.65a4.75 4.75 0 1 0 9.5 0a4.75 4.75 0 1 0 -9.5 0M1390.55 975.4a4.75 4.75 0 1 0 9.5 0a4.75 4.75 0 1 0 -9.5 0M1400.35 975.4a4.75 4.75 0 1 0 9.5 0a4.75 4.75 0 1 0 -9.5 0M1599.85 975.4a4.75 4.75 0 1 0 9.5 0a4.75 4.75 0 1 0 -9.5 0M1538.05 992.7a4.75 4.75 0 1 0 9.5 0a4.75 4.75 0 1 0 -9.5 0M1573.65 996a4.75 4.75 0 1 0 9.5 0a4.75 4.75 0 1 0 -9.5 0M1590.35 994.1a4.75 4.75 0 1 0 9.5 0a4.75 4.75 0 1 0 -9.5 0M1531.05 957.9a4.75 4.75 0 1 0 9.5 0a4.75 4.75 0 1 0 -9.5 0M1566.65 957.9a4.75 4.75 0 1 0 9.5 0a4.75 4.75 0 1 0 -9.5 0M1587.95 957.9a4.75 4.75 0 1 0 9.5 0a4.75 4.75 0 1 0 -9.5 0M1535.55 942a4.75 4.75 0 1 0 9.5 0a4.75 4.75 0 1 0 -9.5 0M1533.15 906.9a4.75 4.75 0 1 0 9.5 0a4.75 4.75 0 1 0 -9.5 0M1556.45 906.9a4.75 4.75 0 1 0 9.5 0a4.75 4.75 0 1 0 -9.5 0M1564.25 907.6a4.75 4.75 0 1 0 9.5 0a4.75 4.75 0 1 0 -9.5 0M1628.25 906.9a4.75 4.75 0 1 0 9.5 0a4.75 4.75 0 1 0 -9.5 0M1642.35 872a4.75 4.75 0 1 0 9.5 0a4.75 4.75 0 1 0 -9.5 0M1644.75 838.1a4.75 4.75 0 1 0 9.5 0a4.75 4.75 0 1 0 -9.5 0M1594.95 820a4.75 4.75 0 1 0 9.5 0a4.75 4.75 0 1 0 -9.5 0M1630.55 803a4.75 4.75 0 1 0 9.5 0a4.75 4.75 0 1 0 -9.5 0M1580.85 786.1a4.75 4.75 0 1 0 9.5 0a4.75 4.75 0 1 0 -9.5 0M1269.75 838.1a4.75 4.75 0 1 0 9.5 0a4.75 4.75 0 1 0 -9.5 0M1271.95 872.3a4.75 4.75 0 1 0 9.5 0a4.75 4.75 0 1 0 -9.5 0" fill="#545457"/>
<path d="M1250.9 774.6H1722.9V1113.4H1250.9ZM1345.3 1113.4v-5.6M1345.3 774.6v5.6M1439.7 1113.4v-5.6M1439.7 774.6v5.6M1534.1 1113.4v-5.6M1534.1 774.6v5.6M1628.5 1113.4v-5.6M1628.5 774.6v5.6M1250.9 1000.5h5.6M1722.9 1000.5h-5.6M1250.9 887.6h5.6M1722.9 887.6h-5.6" fill="none" stroke="#68696e" stroke-width="1.7" stroke-linecap="square"/>
<text x="1015.77" y="813.88" font-size="45" fill="#4e4e50">1</text>
<text x="984.44" y="1031.29" font-size="45" fill="#4e4e50">0.5</text>
<text x="1018.89" y="1246.84" font-size="45" fill="#4e4e50">0</text>
<text x="1046.54" y="1290.84" font-size="45" fill="#4e4e50">0</text>
<text x="1171.02" y="1290.84" font-size="45" fill="#4e4e50">0.2</text>
<text x="1311.2" y="1290.84" font-size="45" fill="#4e4e50">0.4</text>
<text x="1452.23" y="1290.84" font-size="45" fill="#4e4e50">0.6</text>
<text x="1592.32" y="1290.84" font-size="45" fill="#4e4e50">0.8</text>
<text x="1743.87" y="1290.83" font-size="45" fill="#4e4e50">1</text>
<text x="1082.5" y="779.72" font-size="54" fill="#4e4e50">(d)</text>
<text x="1223.38" y="784.31" font-size="29.5" fill="#4e4e50">3</text>
<text x="1223.7" y="898.3" font-size="29.5" fill="#4e4e50">2</text>
<text x="1222.64" y="1010.25" font-size="29.5" fill="#4e4e50">1</text>
<text x="1223.35" y="1123.11" font-size="29.5" fill="#4e4e50">0</text>
<text x="1242.35" y="1151.96" font-size="29.5" fill="#4e4e50">0</text>
<text x="1326.36" y="1151.96" font-size="29.5" fill="#4e4e50">0.2</text>
<text x="1420.05" y="1151.96" font-size="29.5" fill="#4e4e50">0.4</text>
<text x="1515.27" y="1151.96" font-size="29.5" fill="#4e4e50">0.6</text>
<text x="1609.76" y="1151.96" font-size="29.5" fill="#4e4e50">0.8</text>
<text x="1713.14" y="1151.95" font-size="29.5" fill="#4e4e50">1</text>
<text x="1253.6" y="766.3" font-size="31" fill="#4e4e50">×10<tspan font-size="28" dy="-13">-3</tspan></text>
<text x="1293.59" y="1338.2" font-size="45" fill="#4e4e50">x in Li<tspan font-size="26" dy="14.5">x</tspan><tspan dy="-14.5">Te</tspan></text>
<text transform="translate(958 1181.7) rotate(-90)" font-size="45" fill="#4e4e50">IΔE<tspan font-size="26" dy="14.5">s</tspan><tspan dy="-14.5">I (IVI, vs. Li/Li</tspan><tspan font-size="26" dy="-13.5">+</tspan><tspan dy="13.5">)</tspan></text>
<path d="M611.4 1424H1307.6V1942.5H611.4ZM750.64 1942.5v-7.7M750.64 1424v7.7M889.88 1942.5v-7.7M889.88 1424v7.7M1029.12 1942.5v-7.7M1029.12 1424v7.7M1168.36 1942.5v-7.7M1168.36 1424v7.7M611.4 1527.7h7.7M1307.6 1527.7h-7.7M611.4 1631.4h7.7M1307.6 1631.4h-7.7M611.4 1735.1h7.7M1307.6 1735.1h-7.7M611.4 1838.8h7.7M1307.6 1838.8h-7.7" fill="none" stroke="#68696e" stroke-width="1.9" stroke-linecap="square"/>
<path d="M644.4 1537.8a5.5 5.5 0 1 0 11 0a5.5 5.5 0 1 0 -11 0M630.3 1607a5.5 5.5 0 1 0 11 0a5.5 5.5 0 1 0 -11 0M693.2 1614.8a5.5 5.5 0 1 0 11 0a5.5 5.5 0 1 0 -11 0M815.8 1602.4a5.5 5.5 0 1 0 11 0a5.5 5.5 0 1 0 -11 0M637.4 1632.5a5.5 5.5 0 1 0 11 0a5.5 5.5 0 1 0 -11 0M623.3 1640.1a5.5 5.5 0 1 0 11 0a5.5 5.5 0 1 0 -11 0M612.9 1649.2a5.5 5.5 0 1 0 11 0a5.5 5.5 0 1 0 -11 0M608.9 1652.6a5.5 5.5 0 1 0 11 0a5.5 5.5 0 1 0 -11 0M619.6 1660.4a5.5 5.5 0 1 0 11 0a5.5 5.5 0 1 0 -11 0M633.7 1657.3a5.5 5.5 0 1 0 11 0a5.5 5.5 0 1 0 -11 0M641 1650.6a5.5 5.5 0 1 0 11 0a5.5 5.5 0 1 0 -11 0M668.5 1657.3a5.5 5.5 0 1 0 11 0a5.5 5.5 0 1 0 -11 0M787.9 1631.2a5.5 5.5 0 1 0 11 0a5.5 5.5 0 1 0 -11 0M819.5 1656.3a5.5 5.5 0 1 0 11 0a5.5 5.5 0 1 0 -11 0M839.8 1649.3a5.5 5.5 0 1 0 11 0a5.5 5.5 0 1 0 -11 0M615.8 1697.4a5.5 5.5 0 1 0 11 0a5.5 5.5 0 1 0 -11 0M682.5 1688.1a5.5 5.5 0 1 0 11 0a5.5 5.5 0 1 0 -11 0M689.2 1683.7a5.5 5.5 0 1 0 11 0a5.5 5.5 0 1 0 -11 0M721.1 1685.4a5.5 5.5 0 1 0 11 0a5.5 5.5 0 1 0 -11 0M784.3 1687a5.5 5.5 0 1 0 11 0a5.5 5.5 0 1 0 -11 0M812.4 1696.5a5.5 5.5 0 1 0 11 0a5.5 5.5 0 1 0 -11 0M823.1 1710.8a5.5 5.5 0 1 0 11 0a5.5 5.5 0 1 0 -11 0M827.2 1710.2a5.5 5.5 0 1 0 11 0a5.5 5.5 0 1 0 -11 0M654.4 1718.7a5.5 5.5 0 1 0 11 0a5.5 5.5 0 1 0 -11 0M661.8 1718.7a5.5 5.5 0 1 0 11 0a5.5 5.5 0 1 0 -11 0M658.2 1724.8a5.5 5.5 0 1 0 11 0a5.5 5.5 0 1 0 -11 0M699.9 1719.8a5.5 5.5 0 1 0 11 0a5.5 5.5 0 1 0 -11 0M710.7 1719.8a5.5 5.5 0 1 0 11 0a5.5 5.5 0 1 0 -11 0M647.7 1735.5a5.5 5.5 0 1 0 11 0a5.5 5.5 0 1 0 -11 0M675.6 1737.9a5.5 5.5 0 1 0 11 0a5.5 5.5 0 1 0 -11 0M651.3 1760.3a5.5 5.5 0 1 0 11 0a5.5 5.5 0 1 0 -11 0M672.2 1758.3a5.5 5.5 0 1 0 11 0a5.5 5.5 0 1 0 -11 0M665.1 1776.3a5.5 5.5 0 1 0 11 0a5.5 5.5 0 1 0 -11 0M703.7 1773.3a5.5 5.5 0 1 0 11 0a5.5 5.5 0 1 0 -11 0M728.1 1737.9a5.5 5.5 0 1 0 11 0a5.5 5.5 0 1 0 -11 0M738.8 1736.2a5.5 5.5 0 1 0 11 0a5.5 5.5 0 1 0 -11 0M742.5 1731.7a5.5 5.5 0 1 0 11 0a5.5 5.5 0 1 0 -11 0M748.8 1742.2a5.5 5.5 0 1 0 11 0a5.5 5.5 0 1 0 -11 0M756.2 1742.2a5.5 5.5 0 1 0 11 0a5.5 5.5 0 1 0 -11 0M773.6 1750.5a5.5 5.5 0 1 0 11 0a5.5 5.5 0 1 0 -11 0M766.9 1760.3a5.5 5.5 0 1 0 11 0a5.5 5.5 0 1 0 -11 0M772.3 1760.3a5.5 5.5 0 1 0 11 0a5.5 5.5 0 1 0 -11 0M776.9 1760.3a5.5 5.5 0 1 0 11 0a5.5 5.5 0 1 0 -11 0M745.9 1761.2a5.5 5.5 0 1 0 11 0a5.5 5.5 0 1 0 -11 0M731.8 1769.6a5.5 5.5 0 1 0 11 0a5.5 5.5 0 1 0 -11 0M781 1773.3a5.5 5.5 0 1 0 11 0a5.5 5.5 0 1 0 -11 0M752.6 1792.4a5.5 5.5 0 1 0 11 0a5.5 5.5 0 1 0 -11 0M759.5 1792.4a5.5 5.5 0 1 0 11 0a5.5 5.5 0 1 0 -11 0M762.9 1790.8a5.5 5.5 0 1 0 11 0a5.5 5.5 0 1 0 -11 0M696.9 1808.9a5.5 5.5 0 1 0 11 0a5.5 5.5 0 1 0 -11 0M714.3 1810.5a5.5 5.5 0 1 0 11 0a5.5 5.5 0 1 0 -11 0M717.8 1823.5a5.5 5.5 0 1 0 11 0a5.5 5.5 0 1 0 -11 0M792.3 1728.8a5.5 5.5 0 1 0 11 0a5.5 5.5 0 1 0 -11 0M799 1728.8a5.5 5.5 0 1 0 11 0a5.5 5.5 0 1 0 -11 0M801.7 1735.5a5.5 5.5 0 1 0 11 0a5.5 5.5 0 1 0 -11 0M809.1 1760.9a5.5 5.5 0 1 0 11 0a5.5 5.5 0 1 0 -11 0M805.3 1773.4a5.5 5.5 0 1 0 11 0a5.5 5.5 0 1 0 -11 0M829.8 1760.3a5.5 5.5 0 1 0 11 0a5.5 5.5 0 1 0 -11 0M833.2 1729.2a5.5 5.5 0 1 0 11 0a5.5 5.5 0 1 0 -11 0M836.8 1719.4a5.5 5.5 0 1 0 11 0a5.5 5.5 0 1 0 -11 0M843.9 1657a5.5 5.5 0 1 0 11 0a5.5 5.5 0 1 0 -11 0M889.4 1655.7a5.5 5.5 0 1 0 11 0a5.5 5.5 0 1 0 -11 0M847.5 1687.4a5.5 5.5 0 1 0 11 0a5.5 5.5 0 1 0 -11 0M851 1710.3a5.5 5.5 0 1 0 11 0a5.5 5.5 0 1 0 -11 0M854.6 1728.9a5.5 5.5 0 1 0 11 0a5.5 5.5 0 1 0 -11 0M875.3 1711a5.5 5.5 0 1 0 11 0a5.5 5.5 0 1 0 -11 0M872 1717.3a5.5 5.5 0 1 0 11 0a5.5 5.5 0 1 0 -11 0M903.5 1705.2a5.5 5.5 0 1 0 11 0a5.5 5.5 0 1 0 -11 0M893 1719.7a5.5 5.5 0 1 0 11 0a5.5 5.5 0 1 0 -11 0M910.4 1728.9a5.5 5.5 0 1 0 11 0a5.5 5.5 0 1 0 -11 0M879.1 1735.3a5.5 5.5 0 1 0 11 0a5.5 5.5 0 1 0 -11 0M858.2 1750.1a5.5 5.5 0 1 0 11 0a5.5 5.5 0 1 0 -11 0M860.6 1760.4a5.5 5.5 0 1 0 11 0a5.5 5.5 0 1 0 -11 0M866 1760.4a5.5 5.5 0 1 0 11 0a5.5 5.5 0 1 0 -11 0M896.4 1760.8a5.5 5.5 0 1 0 11 0a5.5 5.5 0 1 0 -11 0M900.1 1769.2a5.5 5.5 0 1 0 11 0a5.5 5.5 0 1 0 -11 0M906.8 1775.8a5.5 5.5 0 1 0 11 0a5.5 5.5 0 1 0 -11 0M949 1760.1a5.5 5.5 0 1 0 11 0a5.5 5.5 0 1 0 -11 0M973.5 1657.3a5.5 5.5 0 1 0 11 0a5.5 5.5 0 1 0 -11 0M966.7 1688.5a5.5 5.5 0 1 0 11 0a5.5 5.5 0 1 0 -11 0M956 1700.5a5.5 5.5 0 1 0 11 0a5.5 5.5 0 1 0 -11 0M1026 1619.5a5.5 5.5 0 1 0 11 0a5.5 5.5 0 1 0 -11 0M1068.2 1624.2a5.5 5.5 0 1 0 11 0a5.5 5.5 0 1 0 -11 0M1043.7 1638.7a5.5 5.5 0 1 0 11 0a5.5 5.5 0 1 0 -11 0M1040.3 1655.9a5.5 5.5 0 1 0 11 0a5.5 5.5 0 1 0 -11 0M1018.6 1669.5a5.5 5.5 0 1 0 11 0a5.5 5.5 0 1 0 -11 0M1022.7 1669.7a5.5 5.5 0 1 0 11 0a5.5 5.5 0 1 0 -11 0M1029.8 1679.8a5.5 5.5 0 1 0 11 0a5.5 5.5 0 1 0 -11 0M1005.2 1701.5a5.5 5.5 0 1 0 11 0a5.5 5.5 0 1 0 -11 0M1008.6 1711.6a5.5 5.5 0 1 0 11 0a5.5 5.5 0 1 0 -11 0M1036.7 1703.5a5.5 5.5 0 1 0 11 0a5.5 5.5 0 1 0 -11 0M976.9 1718.3a5.5 5.5 0 1 0 11 0a5.5 5.5 0 1 0 -11 0M984.2 1718.6a5.5 5.5 0 1 0 11 0a5.5 5.5 0 1 0 -11 0M987.5 1729.1a5.5 5.5 0 1 0 11 0a5.5 5.5 0 1 0 -11 0M990.9 1742.7a5.5 5.5 0 1 0 11 0a5.5 5.5 0 1 0 -11 0M1011.9 1736.7a5.5 5.5 0 1 0 11 0a5.5 5.5 0 1 0 -11 0M1033.1 1719.3a5.5 5.5 0 1 0 11 0a5.5 5.5 0 1 0 -11 0M1054.1 1719.3a5.5 5.5 0 1 0 11 0a5.5 5.5 0 1 0 -11 0M1057.5 1729.1a5.5 5.5 0 1 0 11 0a5.5 5.5 0 1 0 -11 0M1064.8 1711a5.5 5.5 0 1 0 11 0a5.5 5.5 0 1 0 -11 0M1071.5 1711a5.5 5.5 0 1 0 11 0a5.5 5.5 0 1 0 -11 0M1061.1 1750.4a5.5 5.5 0 1 0 11 0a5.5 5.5 0 1 0 -11 0M980.5 1775.5a5.5 5.5 0 1 0 11 0a5.5 5.5 0 1 0 -11 0M994.5 1772.8a5.5 5.5 0 1 0 11 0a5.5 5.5 0 1 0 -11 0M882.5 1792.5a5.5 5.5 0 1 0 11 0a5.5 5.5 0 1 0 -11 0M914.9 1792.5a5.5 5.5 0 1 0 11 0a5.5 5.5 0 1 0 -11 0M920.9 1792.5a5.5 5.5 0 1 0 11 0a5.5 5.5 0 1 0 -11 0M931.6 1790.9a5.5 5.5 0 1 0 11 0a5.5 5.5 0 1 0 -11 0M934.9 1793.6a5.5 5.5 0 1 0 11 0a5.5 5.5 0 1 0 -11 0M939 1790.9a5.5 5.5 0 1 0 11 0a5.5 5.5 0 1 0 -11 0M945.7 1790.9a5.5 5.5 0 1 0 11 0a5.5 5.5 0 1 0 -11 0M1001.6 1792.5a5.5 5.5 0 1 0 11 0a5.5 5.5 0 1 0 -11 0M1047.4 1782.6a5.5 5.5 0 1 0 11 0a5.5 5.5 0 1 0 -11 0M1050.8 1792.5a5.5 5.5 0 1 0 11 0a5.5 5.5 0 1 0 -11 0M868.6 1823.7a5.5 5.5 0 1 0 11 0a5.5 5.5 0 1 0 -11 0M928 1823.7a5.5 5.5 0 1 0 11 0a5.5 5.5 0 1 0 -11 0M942.3 1823.7a5.5 5.5 0 1 0 11 0a5.5 5.5 0 1 0 -11 0M970 1820.8a5.5 5.5 0 1 0 11 0a5.5 5.5 0 1 0 -11 0M952.4 1841.8a5.5 5.5 0 1 0 11 0a5.5 5.5 0 1 0 -11 0M1099.7 1604.3a5.5 5.5 0 1 0 11 0a5.5 5.5 0 1 0 -11 0M1096.2 1636.4a5.5 5.5 0 1 0 11 0a5.5 5.5 0 1 0 -11 0M1128.1 1656.3a5.5 5.5 0 1 0 11 0a5.5 5.5 0 1 0 -11 0M1120.7 1663.7a5.5 5.5 0 1 0 11 0a5.5 5.5 0 1 0 -11 0M1113.8 1673a5.5 5.5 0 1 0 11 0a5.5 5.5 0 1 0 -11 0M1110.3 1682.4a5.5 5.5 0 1 0 11 0a5.5 5.5 0 1 0 -11 0M1131.5 1677.7a5.5 5.5 0 1 0 11 0a5.5 5.5 0 1 0 -11 0M1124.4 1701.8a5.5 5.5 0 1 0 11 0a5.5 5.5 0 1 0 -11 0M1075 1729a5.5 5.5 0 1 0 11 0a5.5 5.5 0 1 0 -11 0M1089 1735.3a5.5 5.5 0 1 0 11 0a5.5 5.5 0 1 0 -11 0M1085.7 1743.3a5.5 5.5 0 1 0 11 0a5.5 5.5 0 1 0 -11 0M1092.6 1742a5.5 5.5 0 1 0 11 0a5.5 5.5 0 1 0 -11 0M1103.3 1742.3a5.5 5.5 0 1 0 11 0a5.5 5.5 0 1 0 -11 0M1106.7 1725.9a5.5 5.5 0 1 0 11 0a5.5 5.5 0 1 0 -11 0M1117.1 1726.9a5.5 5.5 0 1 0 11 0a5.5 5.5 0 1 0 -11 0M1134.8 1718.8a5.5 5.5 0 1 0 11 0a5.5 5.5 0 1 0 -11 0M1139.5 1719.2a5.5 5.5 0 1 0 11 0a5.5 5.5 0 1 0 -11 0M1152.2 1738a5.5 5.5 0 1 0 11 0a5.5 5.5 0 1 0 -11 0M1187.3 1731.7a5.5 5.5 0 1 0 11 0a5.5 5.5 0 1 0 -11 0M1211.8 1722.3a5.5 5.5 0 1 0 11 0a5.5 5.5 0 1 0 -11 0M1222.5 1658.3a5.5 5.5 0 1 0 11 0a5.5 5.5 0 1 0 -11 0M1215.2 1672.4a5.5 5.5 0 1 0 11 0a5.5 5.5 0 1 0 -11 0M1219.9 1675a5.5 5.5 0 1 0 11 0a5.5 5.5 0 1 0 -11 0M1225.9 1677a5.5 5.5 0 1 0 11 0a5.5 5.5 0 1 0 -11 0M1229.6 1694.5a5.5 5.5 0 1 0 11 0a5.5 5.5 0 1 0 -11 0M1233 1704.2a5.5 5.5 0 1 0 11 0a5.5 5.5 0 1 0 -11 0M1236.6 1713.9a5.5 5.5 0 1 0 11 0a5.5 5.5 0 1 0 -11 0M1239.9 1723.3a5.5 5.5 0 1 0 11 0a5.5 5.5 0 1 0 -11 0M1244 1722.6a5.5 5.5 0 1 0 11 0a5.5 5.5 0 1 0 -11 0M1247.3 1727.9a5.5 5.5 0 1 0 11 0a5.5 5.5 0 1 0 -11 0M1250.7 1734a5.5 5.5 0 1 0 11 0a5.5 5.5 0 1 0 -11 0M1256.7 1734.6a5.5 5.5 0 1 0 11 0a5.5 5.5 0 1 0 -11 0M1264 1731.3a5.5 5.5 0 1 0 11 0a5.5 5.5 0 1 0 -11 0M1270.7 1740a5.5 5.5 0 1 0 11 0a5.5 5.5 0 1 0 -11 0M1274.8 1734a5.5 5.5 0 1 0 11 0a5.5 5.5 0 1 0 -11 0M1183.7 1757.1a5.5 5.5 0 1 0 11 0a5.5 5.5 0 1 0 -11 0M1208.5 1764.1a5.5 5.5 0 1 0 11 0a5.5 5.5 0 1 0 -11 0M1142.2 1772.8a5.5 5.5 0 1 0 11 0a5.5 5.5 0 1 0 -11 0M1146.2 1774.1a5.5 5.5 0 1 0 11 0a5.5 5.5 0 1 0 -11 0M1180.3 1773.2a5.5 5.5 0 1 0 11 0a5.5 5.5 0 1 0 -11 0M1201.1 1776.8a5.5 5.5 0 1 0 11 0a5.5 5.5 0 1 0 -11 0M1205.1 1774.8a5.5 5.5 0 1 0 11 0a5.5 5.5 0 1 0 -11 0M1082.3 1791.7a5.5 5.5 0 1 0 11 0a5.5 5.5 0 1 0 -11 0M1078.8 1800.2a5.5 5.5 0 1 0 11 0a5.5 5.5 0 1 0 -11 0M1148.9 1787.9a5.5 5.5 0 1 0 11 0a5.5 5.5 0 1 0 -11 0M1155.8 1790.8a5.5 5.5 0 1 0 11 0a5.5 5.5 0 1 0 -11 0M1177 1791.7a5.5 5.5 0 1 0 11 0a5.5 5.5 0 1 0 -11 0M1173.2 1800.8a5.5 5.5 0 1 0 11 0a5.5 5.5 0 1 0 -11 0M1197.8 1802.9a5.5 5.5 0 1 0 11 0a5.5 5.5 0 1 0 -11 0M1194.1 1839a5.5 5.5 0 1 0 11 0a5.5 5.5 0 1 0 -11 0M1190.7 1844.4a5.5 5.5 0 1 0 11 0a5.5 5.5 0 1 0 -11 0M1170 1867.1a5.5 5.5 0 1 0 11 0a5.5 5.5 0 1 0 -11 0M1162.9 1885.9a5.5 5.5 0 1 0 11 0a5.5 5.5 0 1 0 -11 0M1166.5 1896.9a5.5 5.5 0 1 0 11 0a5.5 5.5 0 1 0 -11 0M1278.4 1534.4a5.5 5.5 0 1 0 11 0a5.5 5.5 0 1 0 -11 0" fill="#545457"/>
<text x="554.04" y="1438.76" font-size="45" fill="#4e4e50">-5</text>
<text x="554.38" y="1542.33" font-size="45" fill="#4e4e50">-7</text>
<text x="554.21" y="1646.74" font-size="45" fill="#4e4e50">-9</text>
<text x="529.43" y="1750.18" font-size="45" fill="#4e4e50">-11</text>
<text x="529.32" y="1853.89" font-size="45" fill="#4e4e50">-13</text>
<text x="529.28" y="1957.21" font-size="45" fill="#4e4e50">-15</text>
<text x="598.89" y="2000.49" font-size="45" fill="#4e4e50">0</text>
<text x="723.67" y="2000.49" font-size="45" fill="#4e4e50">0.2</text>
<text x="861.7" y="2000.49" font-size="45" fill="#4e4e50">0.4</text>
<text x="1001.03" y="2000.49" font-size="45" fill="#4e4e50">0.6</text>
<text x="1139.17" y="2000.49" font-size="45" fill="#4e4e50">0.8</text>
<text x="1292.42" y="2000.08" font-size="45" fill="#4e4e50">1</text>
<text x="644.65" y="1484.57" font-size="54" fill="#4e4e50">(e)</text>
<text x="861.59" y="2060.9" font-size="45" fill="#4e4e50">x in Li<tspan font-size="26" dy="14.5">x</tspan><tspan dy="-14.5">Te</tspan></text>
<text transform="translate(502.2 1826.23) rotate(-90)" font-size="45" fill="#4e4e50">Log (D, cm<tspan font-size="26" dy="-14.5">2</tspan><tspan dy="14.5"> s</tspan><tspan font-size="26" dy="-14.5">-1</tspan><tspan dy="14.5">)</tspan></text>
</svg>
</body></html>
